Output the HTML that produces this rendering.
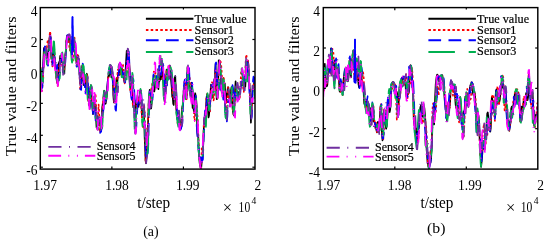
<!DOCTYPE html>
<html><head><meta charset="utf-8"><style>
html,body{margin:0;padding:0;background:#fff;}
body{width:550px;height:242px;overflow:hidden;}
svg{display:block;}
text{font-family:"Liberation Serif","Times New Roman",serif;fill:#000;stroke:#000;stroke-width:0px;}
</style></head><body>
<svg width="550" height="242" viewBox="0 0 550 242">
<rect width="550" height="242" fill="#fff"/>
<clipPath id="cl"><rect x="40.3" y="7.6" width="214.7" height="161.5"/></clipPath>
<g clip-path="url(#cl)" fill="none" stroke-linejoin="round">
<polyline points="40.3,70.9 40.8,80.1 41.3,79.0 41.8,81.1 42.3,82.4 42.9,73.9 43.4,58.4 43.9,48.0 44.4,51.7 44.9,50.5 45.4,47.9 45.9,54.4 46.4,53.6 46.9,53.7 47.5,57.7 48.0,55.0 48.5,47.7 49.0,40.7 49.5,42.6 50.0,33.0 50.5,37.0 51.0,51.9 51.5,59.2 52.1,59.7 52.6,53.5 53.1,48.6 53.6,46.9 54.1,52.5 54.6,63.1 55.1,65.5 55.6,65.4 56.1,72.6 56.7,79.4 57.2,78.6 57.7,76.9 58.2,74.7 58.7,63.9 59.2,61.9 59.7,61.1 60.2,55.8 60.7,56.0 61.3,58.3 61.8,62.1 62.3,59.6 62.8,62.1 63.3,65.0 63.8,66.6 64.3,73.6 64.8,64.2 65.3,54.7 65.9,51.7 66.4,41.5 66.9,36.2 67.4,38.8 67.9,41.9 68.4,37.0 68.9,37.0 69.4,39.4 69.9,39.5 70.5,48.5 71.0,52.0 71.5,48.6 72.0,47.2 72.5,48.7 73.0,46.8 73.5,48.1 74.0,44.2 74.5,45.9 75.1,53.5 75.6,58.9 76.1,59.9 76.6,63.5 77.1,64.4 77.6,57.1 78.1,55.7 78.6,61.7 79.2,67.2 79.7,74.7 80.2,82.5 80.7,82.8 81.2,83.6 81.7,76.5 82.2,73.6 82.7,76.2 83.2,79.6 83.8,85.1 84.3,83.1 84.8,83.8 85.3,87.3 85.8,83.1 86.3,76.0 86.8,73.7 87.3,75.3 87.8,94.1 88.4,101.3 88.9,99.0 89.4,93.5 89.9,92.2 90.4,88.4 90.9,85.1 91.4,86.1 91.9,98.5 92.4,108.1 93.0,114.1 93.5,108.8 94.0,99.9 94.5,96.7 95.0,97.7 95.5,108.4 96.0,117.9 96.5,127.2 97.0,128.5 97.6,116.1 98.1,118.9 98.6,122.0 99.1,125.2 99.6,120.1 100.1,122.3 100.6,128.5 101.1,129.5 101.6,120.6 102.2,107.7 102.7,103.8 103.2,103.7 103.7,94.8 104.2,90.7 104.7,99.6 105.2,103.9 105.7,103.5 106.2,100.6 106.8,96.3 107.3,86.1 107.8,80.5 108.3,75.8 108.8,76.8 109.3,74.6 109.8,66.0 110.3,65.8 110.8,71.4 111.4,77.4 111.9,74.7 112.4,71.6 112.9,82.9 113.4,96.7 113.9,102.4 114.4,93.5 114.9,97.5 115.4,101.9 116.0,86.7 116.5,78.2 117.0,82.7 117.5,80.8 118.0,72.7 118.5,72.4 119.0,73.7 119.5,74.8 120.0,70.3 120.6,69.0 121.1,65.1 121.6,66.4 122.1,70.8 122.6,75.4 123.1,75.4 123.6,74.0 124.1,80.0 124.6,82.5 125.2,75.9 125.7,67.7 126.2,59.0 126.7,50.9 127.2,52.8 127.7,51.6 128.2,51.8 128.7,60.6 129.2,62.2 129.8,70.3 130.3,84.8 130.8,93.2 131.3,82.2 131.8,88.3 132.3,96.0 132.8,98.9 133.3,107.4 133.8,99.1 134.4,103.4 134.9,124.5 135.4,116.1 135.9,105.4 136.4,100.4 136.9,106.1 137.4,106.1 137.9,103.2 138.4,107.2 139.0,104.2 139.5,98.3 140.0,92.7 140.5,89.9 141.0,95.8 141.5,107.1 142.0,115.3 142.5,117.2 143.0,109.0 143.6,108.6 144.1,118.8 144.6,136.8 145.1,147.8 145.6,160.9 146.1,163.3 146.6,145.2 147.1,135.1 147.6,132.4 148.2,118.7 148.7,100.6 149.2,94.3 149.7,89.9 150.2,96.2 150.7,108.6 151.2,108.5 151.7,103.3 152.3,93.6 152.8,82.7 153.3,79.0 153.8,83.6 154.3,91.5 154.8,88.3 155.3,82.3 155.8,83.3 156.3,83.2 156.9,82.6 157.4,83.2 157.9,86.4 158.4,89.2 158.9,81.5 159.4,81.4 159.9,79.4 160.4,74.3 160.9,79.3 161.5,75.1 162.0,67.1 162.5,71.3 163.0,77.9 163.5,85.1 164.0,94.7 164.5,101.3 165.0,96.5 165.5,85.1 166.1,77.5 166.6,69.5 167.1,71.7 167.6,75.5 168.1,72.7 168.6,72.1 169.1,70.6 169.6,65.5 170.1,67.8 170.7,76.3 171.2,81.9 171.7,87.5 172.2,96.9 172.7,96.9 173.2,103.7 173.7,105.0 174.2,93.0 174.7,77.9 175.3,76.1 175.8,92.6 176.3,108.9 176.8,115.5 177.3,116.5 177.8,118.3 178.3,117.7 178.8,110.8 179.3,120.5 179.9,124.3 180.4,124.4 180.9,128.6 181.4,118.2 181.9,109.2 182.4,106.3 182.9,105.6 183.4,96.5 183.9,93.2 184.5,92.8 185.0,89.6 185.5,84.7 186.0,91.6 186.5,98.0 187.0,79.4 187.5,66.8 188.0,68.4 188.5,80.2 189.1,86.0 189.6,88.8 190.1,88.7 190.6,93.4 191.1,88.3 191.6,82.7 192.1,97.2 192.6,107.9 193.1,104.3 193.7,110.2 194.2,113.1 194.7,96.1 195.2,93.2 195.7,95.7 196.2,99.8 196.7,114.4 197.2,130.4 197.7,136.2 198.3,137.4 198.8,153.6 199.3,158.7 199.8,163.8 200.3,166.7 200.8,168.2 201.3,167.1 201.8,160.9 202.3,159.5 202.9,152.2 203.4,140.2 203.9,124.7 204.4,117.7 204.9,123.0 205.4,125.8 205.9,111.2 206.4,99.3 206.9,94.6 207.5,94.6 208.0,110.8 208.5,117.5 209.0,115.7 209.5,109.6 210.0,100.4 210.5,91.7 211.0,84.7 211.5,90.4 212.1,97.6 212.6,97.0 213.1,92.6 213.6,91.8 214.1,89.4 214.6,88.4 215.1,72.2 215.6,63.9 216.1,86.6 216.7,99.2 217.2,98.6 217.7,94.3 218.2,76.6 218.7,60.3 219.2,60.4 219.7,60.9 220.2,65.7 220.8,80.2 221.3,89.4 221.8,92.7 222.3,91.7 222.8,82.9 223.3,78.0 223.8,82.6 224.3,83.8 224.8,83.3 225.4,96.3 225.9,102.3 226.4,93.6 226.9,96.2 227.4,91.2 227.9,87.3 228.4,87.4 228.9,92.0 229.4,98.9 230.0,106.1 230.5,102.3 231.0,90.2 231.5,87.1 232.0,94.8 232.5,107.8 233.0,112.1 233.5,114.1 234.0,115.4 234.6,104.0 235.1,89.3 235.6,81.3 236.1,88.3 236.6,98.9 237.1,93.1 237.6,91.4 238.1,92.0 238.6,97.7 239.2,99.0 239.7,93.2 240.2,90.2 240.7,86.4 241.2,82.7 241.7,84.7 242.2,85.4 242.7,82.5 243.2,81.3 243.8,80.7 244.3,79.9 244.8,80.1 245.3,86.7 245.8,77.8 246.3,62.1 246.8,62.7 247.3,67.2 247.8,60.6 248.4,67.1 248.9,81.6 249.4,83.4 249.9,90.2 250.4,106.4 250.9,122.8 251.4,112.6 251.9,100.8 252.4,91.2 253.0,86.6 253.5,89.4 254.0,83.7 254.5,78.4 255.0,77.1" stroke="#000000" stroke-width="1.65"/>
<polyline points="40.3,74.2 40.8,67.9 41.3,76.4 41.8,91.3 42.3,88.0 42.9,81.0 43.4,68.5 43.9,59.8 44.4,50.6 44.9,46.3 45.4,46.9 45.9,47.4 46.4,50.2 46.9,46.7 47.5,41.6 48.0,40.3 48.5,45.8 49.0,45.5 49.5,36.1 50.0,31.3 50.5,33.9 51.0,51.8 51.5,59.5 52.1,65.7 52.6,66.4 53.1,56.4 53.6,45.5 54.1,47.2 54.6,53.7 55.1,65.5 55.6,72.3 56.1,76.8 56.7,80.6 57.2,84.5 57.7,86.0 58.2,82.9 58.7,72.0 59.2,66.2 59.7,63.1 60.2,61.8 60.7,65.8 61.3,65.4 61.8,65.6 62.3,64.3 62.8,64.6 63.3,63.0 63.8,64.4 64.3,69.4 64.8,65.0 65.3,56.2 65.9,49.5 66.4,39.8 66.9,36.2 67.4,35.1 67.9,34.9 68.4,34.6 68.9,42.0 69.4,48.1 69.9,50.4 70.5,44.9 71.0,40.5 71.5,44.4 72.0,49.8 72.5,59.2 73.0,60.3 73.5,50.5 74.0,39.9 74.5,37.5 75.1,43.5 75.6,50.5 76.1,59.8 76.6,60.9 77.1,56.7 77.6,54.8 78.1,55.9 78.6,57.6 79.2,65.1 79.7,79.2 80.2,88.9 80.7,89.4 81.2,73.9 81.7,66.1 82.2,73.3 82.7,74.2 83.2,68.9 83.8,69.6 84.3,75.5 84.8,78.0 85.3,82.0 85.8,78.1 86.3,76.1 86.8,73.7 87.3,77.0 87.8,91.9 88.4,99.2 88.9,106.1 89.4,99.9 89.9,91.0 90.4,88.9 90.9,94.2 91.4,96.8 91.9,103.5 92.4,102.8 93.0,106.3 93.5,107.7 94.0,107.9 94.5,105.9 95.0,97.5 95.5,93.3 96.0,101.1 96.5,119.5 97.0,123.7 97.6,120.5 98.1,115.9 98.6,104.5 99.1,111.5 99.6,130.4 100.1,132.8 100.6,126.9 101.1,121.5 101.6,128.5 102.2,126.2 102.7,107.2 103.2,99.5 103.7,95.7 104.2,95.8 104.7,95.8 105.2,94.5 105.7,93.5 106.2,94.9 106.8,93.7 107.3,88.9 107.8,83.5 108.3,77.7 108.8,70.9 109.3,69.4 109.8,70.7 110.3,67.4 110.8,68.1 111.4,73.1 111.9,73.5 112.4,74.3 112.9,76.9 113.4,80.2 113.9,93.4 114.4,104.1 114.9,102.9 115.4,94.6 116.0,92.8 116.5,84.7 117.0,79.2 117.5,73.3 118.0,69.3 118.5,74.4 119.0,72.6 119.5,71.9 120.0,72.4 120.6,75.4 121.1,71.8 121.6,66.4 122.1,67.2 122.6,65.6 123.1,65.0 123.6,75.4 124.1,81.6 124.6,83.4 125.2,77.9 125.7,73.4 126.2,71.4 126.7,73.1 127.2,69.4 127.7,64.7 128.2,72.9 128.7,67.6 129.2,67.3 129.8,80.4 130.3,92.6 130.8,92.8 131.3,90.7 131.8,98.5 132.3,99.2 132.8,104.3 133.3,106.7 133.8,97.4 134.4,102.7 134.9,119.5 135.4,126.9 135.9,121.0 136.4,110.0 136.9,99.5 137.4,101.7 137.9,104.0 138.4,97.4 139.0,99.1 139.5,101.0 140.0,96.0 140.5,93.5 141.0,100.9 141.5,112.4 142.0,119.6 142.5,121.4 143.0,128.5 143.6,118.7 144.1,104.4 144.6,111.9 145.1,135.2 145.6,160.9 146.1,163.3 146.6,145.8 147.1,128.6 147.6,127.9 148.2,114.5 148.7,102.4 149.2,98.2 149.7,94.8 150.2,101.3 150.7,100.3 151.2,89.1 151.7,87.9 152.3,83.5 152.8,84.2 153.3,81.4 153.8,71.5 154.3,76.6 154.8,73.1 155.3,70.4 155.8,80.4 156.3,86.4 156.9,82.4 157.4,80.5 157.9,77.3 158.4,82.0 158.9,76.0 159.4,67.6 159.9,62.4 160.4,55.8 160.9,60.4 161.5,76.3 162.0,76.3 162.5,79.9 163.0,77.4 163.5,77.6 164.0,87.8 164.5,96.4 165.0,93.0 165.5,84.2 166.1,76.3 166.6,69.8 167.1,71.7 167.6,74.6 168.1,69.6 168.6,65.2 169.1,67.3 169.6,65.6 170.1,65.6 170.7,69.8 171.2,78.4 171.7,81.1 172.2,86.1 172.7,93.3 173.2,97.5 173.7,94.3 174.2,83.3 174.7,81.6 175.3,82.5 175.8,87.6 176.3,101.4 176.8,114.1 177.3,120.7 177.8,124.6 178.3,123.5 178.8,125.6 179.3,122.6 179.9,122.7 180.4,126.8 180.9,125.4 181.4,124.6 181.9,117.7 182.4,111.1 182.9,102.6 183.4,95.5 183.9,86.5 184.5,81.4 185.0,84.1 185.5,81.5 186.0,85.3 186.5,99.3 187.0,98.2 187.5,87.0 188.0,78.9 188.5,81.8 189.1,75.4 189.6,75.8 190.1,84.4 190.6,94.7 191.1,95.8 191.6,94.9 192.1,93.1 192.6,91.3 193.1,93.1 193.7,104.6 194.2,116.9 194.7,120.8 195.2,111.7 195.7,101.0 196.2,102.7 196.7,110.3 197.2,114.1 197.7,117.1 198.3,132.9 198.8,145.3 199.3,155.0 199.8,163.8 200.3,166.7 200.8,168.2 201.3,162.6 201.8,147.5 202.3,150.4 202.9,155.4 203.4,134.8 203.9,120.4 204.4,118.6 204.9,116.6 205.4,119.7 205.9,108.9 206.4,97.2 206.9,94.6 207.5,93.2 208.0,97.9 208.5,105.6 209.0,110.5 209.5,110.1 210.0,112.7 210.5,100.7 211.0,88.9 211.5,84.3 212.1,82.2 212.6,83.6 213.1,91.2 213.6,100.4 214.1,98.0 214.6,87.6 215.1,70.7 215.6,69.8 216.1,87.0 216.7,92.6 217.2,98.0 217.7,97.9 218.2,90.5 218.7,71.7 219.2,64.4 219.7,61.6 220.2,61.4 220.8,61.9 221.3,66.2 221.8,73.1 222.3,86.4 222.8,91.1 223.3,85.6 223.8,78.0 224.3,88.9 224.8,95.8 225.4,98.0 225.9,102.3 226.4,109.3 226.9,114.0 227.4,103.7 227.9,87.3 228.4,89.3 228.9,98.2 229.4,100.7 230.0,100.1 230.5,99.1 231.0,97.9 231.5,91.2 232.0,90.7 232.5,102.3 233.0,112.7 233.5,114.1 234.0,111.0 234.6,100.1 235.1,97.1 235.6,99.8 236.1,92.9 236.6,86.8 237.1,86.7 237.6,93.9 238.1,97.3 238.6,94.2 239.2,96.0 239.7,98.5 240.2,90.8 240.7,79.4 241.2,70.1 241.7,68.7 242.2,75.3 242.7,84.6 243.2,88.3 243.8,91.9 244.3,81.5 244.8,74.8 245.3,72.1 245.8,59.4 246.3,54.4 246.8,57.7 247.3,60.2 247.8,60.6 248.4,63.9 248.9,74.5 249.4,84.4 249.9,96.0 250.4,102.0 250.9,113.4 251.4,113.8 251.9,105.3 252.4,94.8 253.0,88.1 253.5,84.6 254.0,88.7 254.5,87.3 255.0,90.6" stroke="#ff0000" stroke-width="1.65" stroke-dasharray="2.5 2.3"/>
<polyline points="40.3,76.8 40.8,81.0 41.3,74.6 41.8,80.4 42.3,88.0 42.9,73.5 43.4,65.7 43.9,56.4 44.4,48.8 44.9,46.3 45.4,46.9 45.9,50.5 46.4,50.7 46.9,56.4 47.5,63.8 48.0,65.7 48.5,60.0 49.0,56.8 49.5,49.8 50.0,34.7 50.5,33.9 51.0,46.5 51.5,50.0 52.1,57.7 52.6,65.4 53.1,60.5 53.6,48.9 54.1,45.0 54.6,56.4 55.1,72.6 55.6,74.4 56.1,71.2 56.7,70.4 57.2,64.6 57.7,71.8 58.2,78.3 58.7,80.3 59.2,77.7 59.7,69.0 60.2,63.5 60.7,60.9 61.3,59.0 61.8,57.0 62.3,64.9 62.8,72.2 63.3,69.1 63.8,60.9 64.3,59.4 64.8,63.3 65.3,62.8 65.9,53.8 66.4,44.1 66.9,36.5 67.4,35.1 67.9,34.9 68.4,35.8 68.9,35.8 69.4,36.1 69.9,38.9 70.5,36.8 71.0,39.7 71.5,47.3 72.0,54.9 72.5,17.0 73.0,49.9 73.5,48.1 74.0,50.9 74.5,49.8 75.1,42.4 75.6,51.3 76.1,61.2 76.6,66.7 77.1,66.5 77.6,65.9 78.1,61.3 78.6,58.6 79.2,64.4 79.7,76.3 80.2,88.9 80.7,89.4 81.2,89.9 81.7,76.6 82.2,69.8 82.7,63.5 83.2,65.1 83.8,76.9 84.3,82.8 84.8,85.9 85.3,94.5 85.8,90.7 86.3,84.7 86.8,87.8 87.3,85.0 87.8,81.4 88.4,91.0 88.9,101.3 89.4,105.9 89.9,97.6 90.4,86.9 90.9,85.8 91.4,90.3 91.9,93.3 92.4,105.6 93.0,113.6 93.5,110.2 94.0,106.6 94.5,109.6 95.0,109.9 95.5,118.8 96.0,125.1 96.5,123.5 97.0,119.9 97.6,117.5 98.1,119.3 98.6,129.2 99.1,132.0 99.6,132.3 100.1,132.8 100.6,130.7 101.1,131.8 101.6,127.7 102.2,120.7 102.7,113.2 103.2,111.2 103.7,108.3 104.2,93.8 104.7,94.8 105.2,101.5 105.7,100.5 106.2,99.3 106.8,100.1 107.3,90.5 107.8,80.8 108.3,76.0 108.8,70.4 109.3,67.8 109.8,68.1 110.3,73.4 110.8,72.2 111.4,68.8 111.9,68.6 112.4,72.6 112.9,84.7 113.4,91.5 113.9,90.8 114.4,88.2 114.9,102.1 115.4,109.4 116.0,110.7 116.5,101.7 117.0,87.6 117.5,78.7 118.0,76.4 118.5,74.7 119.0,70.7 119.5,69.4 120.0,69.7 120.6,63.8 121.1,65.1 121.6,67.9 122.1,74.7 122.6,77.4 123.1,76.4 123.6,73.3 124.1,72.1 124.6,81.7 125.2,82.3 125.7,75.1 126.2,68.5 126.7,64.1 127.2,62.1 127.7,56.5 128.2,48.0 128.7,49.8 129.2,58.2 129.8,75.9 130.3,86.9 130.8,93.4 131.3,97.7 131.8,99.7 132.3,95.3 132.8,91.7 133.3,78.8 133.8,82.6 134.4,92.9 134.9,101.4 135.4,119.9 135.9,132.0 136.4,125.9 136.9,114.4 137.4,108.5 137.9,100.7 138.4,97.8 139.0,99.8 139.5,103.4 140.0,99.3 140.5,90.2 141.0,89.6 141.5,95.8 142.0,107.0 142.5,110.5 143.0,112.0 143.6,117.0 144.1,115.4 144.6,112.6 145.1,138.1 145.6,149.8 146.1,156.3 146.6,160.0 147.1,154.6 147.6,153.3 148.2,148.6 148.7,125.6 149.2,101.4 149.7,91.4 150.2,96.0 150.7,94.9 151.2,89.5 151.7,91.3 152.3,100.3 152.8,97.1 153.3,76.0 153.8,72.9 154.3,72.8 154.8,78.3 155.3,83.3 155.8,80.5 156.3,74.5 156.9,71.6 157.4,77.2 157.9,86.7 158.4,80.7 158.9,70.4 159.4,62.0 159.9,55.1 160.4,62.3 160.9,75.0 161.5,71.5 162.0,62.0 162.5,70.3 163.0,63.9 163.5,66.5 164.0,71.0 164.5,84.3 165.0,93.3 165.5,85.7 166.1,78.9 166.6,82.9 167.1,85.4 167.6,73.5 168.1,71.6 168.6,76.8 169.1,78.9 169.6,66.5 170.1,67.2 170.7,67.2 171.2,68.8 171.7,79.4 172.2,89.8 172.7,81.2 173.2,80.4 173.7,94.7 174.2,97.1 174.7,91.7 175.3,87.3 175.8,84.4 176.3,93.0 176.8,105.4 177.3,118.4 177.8,124.1 178.3,118.6 178.8,114.4 179.3,118.0 179.9,127.7 180.4,129.9 180.9,128.6 181.4,127.2 181.9,125.9 182.4,123.0 182.9,111.2 183.4,95.7 183.9,85.6 184.5,81.4 185.0,78.4 185.5,83.6 186.0,82.6 186.5,83.9 187.0,79.0 187.5,72.6 188.0,68.7 188.5,66.4 189.1,67.4 189.6,80.0 190.1,91.8 190.6,96.0 191.1,90.6 191.6,84.3 192.1,82.8 192.6,92.8 193.1,102.8 193.7,101.0 194.2,102.5 194.7,112.4 195.2,107.8 195.7,95.7 196.2,103.2 196.7,126.0 197.2,133.2 197.7,138.1 198.3,147.3 198.8,152.4 199.3,148.4 199.8,152.5 200.3,161.1 200.8,162.8 201.3,160.4 201.8,154.6 202.3,160.8 202.9,159.5 203.4,146.6 203.9,132.5 204.4,121.4 204.9,111.1 205.4,110.0 205.9,112.7 206.4,107.7 206.9,99.3 207.5,94.8 208.0,93.0 208.5,93.4 209.0,101.0 209.5,112.8 210.0,106.8 210.5,97.3 211.0,90.4 211.5,85.2 212.1,86.0 212.6,87.3 213.1,83.9 213.6,83.3 214.1,81.9 214.6,78.5 215.1,78.8 215.6,63.2 216.1,62.4 216.7,68.1 217.2,83.0 217.7,89.4 218.2,83.1 218.7,82.6 219.2,82.4 219.7,85.1 220.2,90.1 220.8,94.0 221.3,89.2 221.8,82.7 222.3,88.7 222.8,95.2 223.3,99.7 223.8,95.4 224.3,92.5 224.8,101.3 225.4,114.2 225.9,118.4 226.4,118.4 226.9,121.5 227.4,116.2 227.9,103.3 228.4,99.9 228.9,101.8 229.4,99.4 230.0,98.5 230.5,98.9 231.0,99.3 231.5,96.8 232.0,90.8 232.5,85.1 233.0,87.7 233.5,92.4 234.0,99.1 234.6,100.1 235.1,92.5 235.6,94.1 236.1,102.2 236.6,98.0 237.1,92.1 237.6,93.7 238.1,95.7 238.6,99.2 239.2,96.4 239.7,96.6 240.2,94.1 240.7,85.9 241.2,81.8 241.7,74.1 242.2,71.4 242.7,76.2 243.2,81.2 243.8,86.0 244.3,83.4 244.8,76.3 245.3,76.5 245.8,74.0 246.3,71.9 246.8,67.7 247.3,62.3 247.8,71.9 248.4,77.6 248.9,78.6 249.4,92.0 249.9,101.9 250.4,98.6 250.9,101.3 251.4,118.3 251.9,116.6 252.4,99.3 253.0,80.2 253.5,76.6 254.0,78.0 254.5,82.8 255.0,84.2" stroke="#0000ff" stroke-width="1.65" stroke-dasharray="12.7 7.4"/>
<polyline points="40.3,74.8 40.8,68.9 41.3,70.1 41.8,82.8 42.3,82.1 42.9,82.3 43.4,77.0 43.9,60.1 44.4,52.1 44.9,52.7 45.4,51.9 45.9,52.5 46.4,60.0 46.9,64.7 47.5,64.0 48.0,59.2 48.5,58.1 49.0,51.4 49.5,42.3 50.0,43.2 50.5,44.6 51.0,49.7 51.5,56.2 52.1,63.6 52.6,62.0 53.1,48.2 53.6,41.4 54.1,41.6 54.6,48.8 55.1,59.3 55.6,67.9 56.1,75.3 56.7,80.6 57.2,79.2 57.7,81.2 58.2,81.7 58.7,80.3 59.2,78.7 59.7,78.7 60.2,73.1 60.7,59.3 61.3,54.0 61.8,53.2 62.3,52.4 62.8,55.7 63.3,66.6 63.8,75.4 64.3,73.6 64.8,67.7 65.3,57.4 65.9,48.9 66.4,44.2 66.9,41.3 67.4,40.7 67.9,39.2 68.4,34.6 68.9,34.3 69.4,34.2 69.9,36.3 70.5,51.1 71.0,52.7 71.5,59.3 72.0,62.7 72.5,61.2 73.0,51.4 73.5,43.4 74.0,38.1 74.5,42.1 75.1,52.7 75.6,61.6 76.1,66.8 76.6,68.3 77.1,67.1 77.6,58.9 78.1,59.0 78.6,67.5 79.2,71.1 79.7,65.7 80.2,74.4 80.7,78.1 81.2,75.4 81.7,77.5 82.2,72.7 82.7,64.9 83.2,65.1 83.8,66.7 84.3,75.9 84.8,84.5 85.3,82.5 85.8,75.1 86.3,74.4 86.8,81.8 87.3,93.3 87.8,101.8 88.4,101.9 88.9,109.9 89.4,111.1 89.9,110.3 90.4,96.4 90.9,85.1 91.4,86.1 91.9,87.8 92.4,103.8 93.0,109.0 93.5,98.7 94.0,96.6 94.5,100.6 95.0,109.9 95.5,118.0 96.0,118.7 96.5,114.9 97.0,122.5 97.6,129.8 98.1,127.5 98.6,131.4 99.1,132.0 99.6,131.0 100.1,120.6 100.6,123.8 101.1,128.7 101.6,127.8 102.2,128.5 102.7,119.3 103.2,102.4 103.7,93.7 104.2,91.3 104.7,91.1 105.2,96.0 105.7,98.6 106.2,99.3 106.8,94.6 107.3,89.9 107.8,87.2 108.3,75.5 108.8,70.4 109.3,67.8 109.8,65.2 110.3,64.8 110.8,65.6 111.4,66.4 111.9,67.8 112.4,75.7 112.9,83.7 113.4,87.3 113.9,89.6 114.4,95.9 114.9,100.0 115.4,96.5 116.0,89.5 116.5,90.4 117.0,88.8 117.5,87.7 118.0,77.4 118.5,66.0 119.0,64.7 119.5,67.0 120.0,64.1 120.6,67.1 121.1,71.2 121.6,77.2 122.1,76.3 122.6,77.3 123.1,77.0 123.6,72.4 124.1,75.1 124.6,82.3 125.2,77.9 125.7,71.7 126.2,77.7 126.7,79.5 127.2,68.2 127.7,61.8 128.2,59.1 128.7,66.6 129.2,73.4 129.8,85.5 130.3,92.2 130.8,90.5 131.3,88.6 131.8,81.3 132.3,72.8 132.8,75.0 133.3,85.4 133.8,99.8 134.4,122.6 134.9,138.7 135.4,133.7 135.9,119.2 136.4,110.9 136.9,106.7 137.4,104.2 137.9,97.8 138.4,97.8 139.0,100.1 139.5,98.8 140.0,92.2 140.5,88.8 141.0,92.3 141.5,101.3 142.0,121.1 142.5,126.3 143.0,125.7 143.6,106.8 144.1,111.5 144.6,126.1 145.1,134.4 145.6,139.6 146.1,154.8 146.6,151.3 147.1,154.6 147.6,153.3 148.2,146.1 148.7,114.4 149.2,94.3 149.7,101.7 150.2,103.9 150.7,101.6 151.2,105.9 151.7,100.9 152.3,87.5 152.8,81.3 153.3,76.6 153.8,71.8 154.3,69.8 154.8,70.2 155.3,77.5 155.8,86.1 156.3,87.2 156.9,87.3 157.4,85.3 157.9,76.8 158.4,66.0 158.9,65.5 159.4,60.3 159.9,55.1 160.4,55.8 160.9,64.9 161.5,64.4 162.0,58.8 162.5,64.7 163.0,75.9 163.5,95.4 164.0,98.9 164.5,96.6 165.0,98.8 165.5,98.1 166.1,97.0 166.6,88.6 167.1,76.9 167.6,69.2 168.1,77.9 168.6,85.7 169.1,78.4 169.6,71.1 170.1,68.3 170.7,67.2 171.2,69.5 171.7,70.3 172.2,75.9 172.7,81.1 173.2,87.3 173.7,95.4 174.2,90.2 174.7,84.8 175.3,82.5 175.8,101.1 176.3,112.9 176.8,116.8 177.3,120.7 177.8,124.6 178.3,126.8 178.8,120.8 179.3,119.6 179.9,124.8 180.4,123.9 180.9,124.7 181.4,127.1 181.9,119.9 182.4,108.0 182.9,102.1 183.4,95.1 183.9,87.0 184.5,84.0 185.0,94.8 185.5,99.1 186.0,92.2 186.5,97.9 187.0,92.6 187.5,77.3 188.0,72.8 188.5,82.5 189.1,89.5 189.6,91.2 190.1,86.1 190.6,87.9 191.1,91.4 191.6,90.0 192.1,87.6 192.6,89.9 193.1,95.5 193.7,103.2 194.2,106.9 194.7,101.5 195.2,107.7 195.7,99.6 196.2,98.5 196.7,110.5 197.2,118.0 197.7,131.8 198.3,142.3 198.8,153.6 199.3,158.7 199.8,163.8 200.3,163.7 200.8,163.2 201.3,161.1 201.8,156.1 202.3,159.4 202.9,151.6 203.4,135.3 203.9,130.1 204.4,124.7 204.9,116.8 205.4,124.8 205.9,126.9 206.4,115.8 206.9,96.4 207.5,93.2 208.0,97.9 208.5,104.4 209.0,110.3 209.5,109.9 210.0,104.2 210.5,94.6 211.0,93.6 211.5,98.6 212.1,92.6 212.6,92.2 213.1,93.9 213.6,93.7 214.1,86.7 214.6,83.0 215.1,77.8 215.6,82.3 216.1,93.8 216.7,96.6 217.2,95.9 217.7,86.3 218.2,86.3 218.7,87.5 219.2,75.0 219.7,64.9 220.2,66.2 220.8,71.3 221.3,78.6 221.8,91.4 222.3,98.4 222.8,86.7 223.3,79.3 223.8,80.1 224.3,94.4 224.8,108.2 225.4,116.9 225.9,118.4 226.4,114.1 226.9,109.1 227.4,109.4 227.9,101.5 228.4,96.8 228.9,95.3 229.4,94.4 230.0,96.6 230.5,104.0 231.0,101.2 231.5,93.7 232.0,87.1 232.5,91.3 233.0,103.8 233.5,114.1 234.0,113.1 234.6,98.4 235.1,88.9 235.6,87.3 236.1,85.2 236.6,90.0 237.1,97.0 237.6,99.7 238.1,99.0 238.6,97.9 239.2,97.0 239.7,90.9 240.2,87.9 240.7,86.4 241.2,77.6 241.7,68.7 242.2,68.2 242.7,73.8 243.2,86.2 243.8,83.2 244.3,83.9 244.8,89.2 245.3,84.1 245.8,71.9 246.3,62.2 246.8,72.0 247.3,82.5 247.8,74.5 248.4,72.6 248.9,76.8 249.4,86.3 249.9,101.0 250.4,114.0 250.9,110.6 251.4,98.9 251.9,97.5 252.4,95.8 253.0,92.3 253.5,88.7 254.0,86.7 254.5,93.1 255.0,98.7" stroke="#00b050" stroke-width="1.65" stroke-dasharray="26.5 13.8"/>
<polyline points="40.3,77.7 40.8,81.2 41.3,87.0 41.8,91.3 42.3,88.0 42.9,75.1 43.4,69.7 43.9,64.9 44.4,56.3 44.9,48.8 45.4,46.9 45.9,49.1 46.4,53.8 46.9,62.4 47.5,61.7 48.0,59.7 48.5,56.3 49.0,50.3 49.5,38.5 50.0,31.6 50.5,45.5 51.0,52.1 51.5,57.7 52.1,64.4 52.6,66.3 53.1,62.0 53.6,56.9 54.1,56.7 54.6,61.1 55.1,65.7 55.6,62.8 56.1,60.2 56.7,67.8 57.2,81.0 57.7,86.0 58.2,83.2 58.7,80.3 59.2,78.7 59.7,75.5 60.2,59.8 60.7,53.8 61.3,54.0 61.8,53.2 62.3,59.9 62.8,69.7 63.3,78.3 63.8,75.9 64.3,73.6 64.8,69.1 65.3,58.5 65.9,46.8 66.4,39.8 66.9,36.2 67.4,35.6 67.9,36.0 68.4,34.6 68.9,34.3 69.4,34.2 69.9,34.9 70.5,41.6 71.0,44.1 71.5,43.6 72.0,46.2 72.5,51.4 73.0,47.9 73.5,42.2 74.0,39.0 74.5,40.2 75.1,43.2 75.6,48.3 76.1,58.6 76.6,64.5 77.1,65.5 77.6,62.5 78.1,58.0 78.6,56.4 79.2,64.5 79.7,77.4 80.2,84.6 80.7,89.4 81.2,86.4 81.7,74.3 82.2,71.8 82.7,75.1 83.2,84.2 83.8,84.7 84.3,83.0 84.8,86.6 85.3,88.5 85.8,89.8 86.3,89.4 86.8,86.4 87.3,80.1 87.8,76.8 88.4,81.8 88.9,94.9 89.4,97.7 89.9,100.6 90.4,109.0 90.9,103.3 91.4,90.6 91.9,87.2 92.4,96.5 93.0,109.9 93.5,110.4 94.0,101.0 94.5,98.0 95.0,102.9 95.5,106.8 96.0,103.5 96.5,114.2 97.0,128.4 97.6,129.8 98.1,129.9 98.6,119.9 99.1,116.9 99.6,117.7 100.1,126.9 100.6,130.9 101.1,126.9 101.6,115.7 102.2,112.6 102.7,117.4 103.2,113.2 103.7,108.6 104.2,98.4 104.7,92.4 105.2,99.6 105.7,102.1 106.2,95.1 106.8,90.1 107.3,90.3 107.8,84.3 108.3,73.5 108.8,70.4 109.3,67.8 109.8,65.2 110.3,64.8 110.8,65.6 111.4,66.4 111.9,67.1 112.4,70.5 112.9,88.6 113.4,95.1 113.9,94.3 114.4,101.1 114.9,106.6 115.4,106.1 116.0,100.3 116.5,90.6 117.0,90.3 117.5,92.3 118.0,92.2 118.5,76.1 119.0,64.7 119.5,63.5 120.0,62.8 120.6,63.8 121.1,65.1 121.6,66.4 122.1,67.2 122.6,67.1 123.1,70.6 123.6,78.1 124.1,83.0 124.6,79.9 125.2,70.7 125.7,64.3 126.2,61.6 126.7,59.9 127.2,54.8 127.7,48.6 128.2,49.1 128.7,63.8 129.2,76.6 129.8,83.7 130.3,88.0 130.8,88.8 131.3,80.2 131.8,75.9 132.3,81.4 132.8,87.8 133.3,89.5 133.8,96.2 134.4,117.0 134.9,133.8 135.4,129.6 135.9,116.5 136.4,108.3 136.9,99.4 137.4,95.3 137.9,99.7 138.4,108.2 139.0,108.9 139.5,109.1 140.0,102.6 140.5,90.2 141.0,86.4 141.5,98.0 142.0,109.8 142.5,102.7 143.0,102.0 143.6,97.8 144.1,106.4 144.6,122.6 145.1,121.3 145.6,130.4 146.1,163.3 146.6,160.0 147.1,156.6 147.6,143.6 148.2,127.7 148.7,124.2 149.2,118.0 149.7,106.6 150.2,103.5 150.7,107.7 151.2,104.6 151.7,98.8 152.3,100.3 152.8,95.5 153.3,87.6 153.8,84.8 154.3,82.1 154.8,79.9 155.3,79.3 155.8,83.2 156.3,80.5 156.9,79.9 157.4,72.1 157.9,69.0 158.4,75.6 158.9,74.1 159.4,70.1 159.9,67.1 160.4,61.6 160.9,56.8 161.5,60.5 162.0,62.9 162.5,63.8 163.0,69.4 163.5,76.4 164.0,84.4 164.5,94.9 165.0,104.9 165.5,105.2 166.1,90.2 166.6,79.3 167.1,71.5 167.6,75.9 168.1,71.9 168.6,72.6 169.1,78.2 169.6,73.5 170.1,65.6 170.7,70.0 171.2,74.1 171.7,78.0 172.2,82.4 172.7,89.2 173.2,93.8 173.7,99.8 174.2,99.4 174.7,84.4 175.3,76.2 175.8,79.6 176.3,90.9 176.8,102.0 177.3,109.8 177.8,112.6 178.3,111.2 178.8,110.5 179.3,120.9 179.9,127.0 180.4,122.5 180.9,119.5 181.4,123.5 181.9,125.9 182.4,120.7 182.9,109.8 183.4,98.3 183.9,87.4 184.5,84.1 185.0,88.0 185.5,83.7 186.0,88.2 186.5,93.7 187.0,85.2 187.5,69.1 188.0,65.3 188.5,72.3 189.1,78.4 189.6,87.5 190.1,94.6 190.6,97.9 191.1,93.2 191.6,83.1 192.1,83.8 192.6,91.2 193.1,97.6 193.7,110.1 194.2,111.9 194.7,107.6 195.2,102.2 195.7,100.1 196.2,100.8 196.7,107.8 197.2,118.5 197.7,132.8 198.3,135.5 198.8,147.0 199.3,157.0 199.8,160.3 200.3,161.4 200.8,168.2 201.3,167.1 201.8,164.6 202.3,161.4 202.9,154.4 203.4,140.5 203.9,122.6 204.4,119.2 204.9,116.8 205.4,109.8 205.9,103.4 206.4,104.6 206.9,103.5 207.5,104.7 208.0,103.5 208.5,101.7 209.0,103.3 209.5,104.3 210.0,97.1 210.5,88.7 211.0,87.5 211.5,88.2 212.1,84.1 212.6,82.1 213.1,85.9 213.6,83.9 214.1,79.2 214.6,79.4 215.1,74.8 215.6,76.9 216.1,79.0 216.7,82.9 217.2,95.1 217.7,97.8 218.2,83.2 218.7,69.1 219.2,63.0 219.7,60.9 220.2,61.4 220.8,62.4 221.3,81.7 221.8,94.8 222.3,94.0 222.8,93.9 223.3,95.2 223.8,93.0 224.3,91.0 224.8,100.7 225.4,112.8 225.9,117.5 226.4,120.0 226.9,121.5 227.4,106.6 227.9,93.9 228.4,89.3 228.9,91.9 229.4,93.5 230.0,95.6 230.5,99.3 231.0,98.5 231.5,97.5 232.0,91.7 232.5,88.0 233.0,96.2 233.5,96.9 234.0,103.6 234.6,105.3 235.1,95.7 235.6,89.6 236.1,87.3 236.6,85.3 237.1,84.1 237.6,82.8 238.1,85.8 238.6,96.1 239.2,100.1 239.7,98.9 240.2,94.0 240.7,84.2 241.2,77.3 241.7,78.4 242.2,77.9 242.7,74.6 243.2,75.7 243.8,83.2 244.3,90.4 244.8,90.2 245.3,80.5 245.8,61.1 246.3,58.2 246.8,67.7 247.3,69.2 247.8,67.1 248.4,63.3 248.9,70.8 249.4,82.1 249.9,89.2 250.4,94.9 250.9,107.9 251.4,120.2 251.9,102.7 252.4,85.9 253.0,85.7 253.5,86.7 254.0,89.0 254.5,87.5 255.0,86.1" stroke="#7030a0" stroke-width="1.65" stroke-dasharray="13.2 7.5 1 7.5"/>
<polyline points="40.3,79.5 40.8,86.3 41.3,89.8 41.8,91.3 42.3,87.9 42.9,75.7 43.4,70.5 43.9,60.9 44.4,54.3 44.9,59.3 45.4,57.1 45.9,53.6 46.4,55.7 46.9,57.9 47.5,63.9 48.0,65.7 48.5,60.0 49.0,48.6 49.5,43.4 50.0,38.9 50.5,33.9 51.0,39.7 51.5,54.3 52.1,65.7 52.6,66.4 53.1,66.9 53.6,60.3 54.1,58.2 54.6,66.2 55.1,69.5 55.6,74.4 56.1,73.6 56.7,66.0 57.2,76.5 57.7,86.0 58.2,83.2 58.7,80.3 59.2,78.7 59.7,74.0 60.2,72.5 60.7,71.5 61.3,58.9 61.8,53.3 62.3,57.4 62.8,60.4 63.3,63.7 63.8,66.9 64.3,62.6 64.8,61.4 65.3,60.1 65.9,52.5 66.4,48.8 66.9,41.1 67.4,35.3 67.9,35.0 68.4,37.4 68.9,38.9 69.4,35.3 69.9,34.1 70.5,33.9 71.0,33.7 71.5,35.4 72.0,46.3 72.5,59.6 73.0,61.7 73.5,61.1 74.0,52.9 74.5,50.3 75.1,43.2 75.6,42.1 76.1,48.5 76.6,64.2 77.1,62.3 77.6,54.5 78.1,59.6 78.6,64.5 79.2,66.3 79.7,71.6 80.2,70.7 80.7,79.9 81.2,85.2 81.7,85.6 82.2,80.8 82.7,75.7 83.2,74.0 83.8,77.1 84.3,86.1 84.8,89.1 85.3,94.7 85.8,97.0 86.3,93.2 86.8,93.6 87.3,93.7 87.8,94.0 88.4,98.2 88.9,100.1 89.4,109.2 89.9,104.5 90.4,93.8 90.9,88.9 91.4,89.7 91.9,87.2 92.4,90.3 93.0,103.3 93.5,109.9 94.0,102.2 94.5,92.8 95.0,94.5 95.5,106.7 96.0,106.7 96.5,117.1 97.0,128.5 97.6,129.8 98.1,118.6 98.6,111.5 99.1,119.0 99.6,118.6 100.1,121.2 100.6,116.4 101.1,117.1 101.6,131.3 102.2,129.9 102.7,123.5 103.2,113.1 103.7,99.6 104.2,94.0 104.7,94.2 105.2,99.3 105.7,98.7 106.2,98.5 106.8,101.7 107.3,99.2 107.8,89.5 108.3,78.6 108.8,70.9 109.3,67.8 109.8,65.2 110.3,64.8 110.8,65.9 111.4,68.4 111.9,71.8 112.4,75.2 112.9,76.2 113.4,77.1 113.9,76.9 114.4,80.4 114.9,100.7 115.4,105.6 116.0,100.1 116.5,102.1 117.0,90.0 117.5,83.3 118.0,78.4 118.5,74.7 119.0,69.4 119.5,63.5 120.0,62.4 120.6,64.1 121.1,66.0 121.6,66.4 122.1,67.2 122.6,65.6 123.1,67.6 123.6,67.3 124.1,71.9 124.6,75.6 125.2,77.3 125.7,78.4 126.2,73.4 126.7,65.7 127.2,67.3 127.7,66.5 128.2,50.7 128.7,49.8 129.2,61.3 129.8,77.8 130.3,77.1 130.8,89.9 131.3,97.3 131.8,88.0 132.3,83.5 132.8,76.1 133.3,78.8 133.8,94.3 134.4,115.0 134.9,123.5 135.4,133.9 135.9,133.2 136.4,123.8 136.9,104.6 137.4,97.2 137.9,88.0 138.4,86.3 139.0,91.7 139.5,104.1 140.0,101.3 140.5,94.3 141.0,97.2 141.5,99.6 142.0,104.0 142.5,115.4 143.0,121.1 143.6,121.1 144.1,125.2 144.6,122.1 145.1,130.4 145.6,132.8 146.1,138.6 146.6,149.0 147.1,139.3 147.6,133.4 148.2,125.0 148.7,112.7 149.2,103.9 149.7,90.0 150.2,96.5 150.7,96.4 151.2,101.9 151.7,101.2 152.3,91.1 152.8,86.6 153.3,89.0 153.8,81.2 154.3,65.8 154.8,62.4 155.3,63.1 155.8,82.0 156.3,92.0 156.9,82.9 157.4,81.6 157.9,86.9 158.4,88.1 158.9,81.2 159.4,63.0 159.9,55.1 160.4,64.1 160.9,66.3 161.5,64.6 162.0,58.8 162.5,61.3 163.0,63.9 163.5,70.0 164.0,94.1 164.5,104.3 165.0,101.6 165.5,97.0 166.1,84.3 166.6,76.7 167.1,73.5 167.6,70.2 168.1,69.3 168.6,65.7 169.1,74.4 169.6,76.2 170.1,66.0 170.7,67.2 171.2,68.8 171.7,70.3 172.2,71.6 172.7,75.9 173.2,79.9 173.7,89.8 174.2,99.1 174.7,97.8 175.3,93.4 175.8,89.7 176.3,96.4 176.8,100.7 177.3,115.0 177.8,120.0 178.3,115.2 178.8,119.1 179.3,129.3 179.9,130.5 180.4,125.0 180.9,125.0 181.4,123.0 181.9,117.1 182.4,110.0 182.9,107.8 183.4,101.9 183.9,95.6 184.5,88.9 185.0,78.0 185.5,76.0 186.0,87.0 186.5,97.7 187.0,98.2 187.5,87.5 188.0,67.1 188.5,68.3 189.1,79.0 189.6,83.0 190.1,84.8 190.6,96.4 191.1,101.1 191.6,103.6 192.1,91.1 192.6,83.1 193.1,94.0 193.7,107.7 194.2,116.9 194.7,120.8 195.2,114.2 195.7,99.8 196.2,98.5 196.7,109.4 197.2,111.6 197.7,116.1 198.3,133.5 198.8,153.6 199.3,158.0 199.8,160.8 200.3,166.7 200.8,168.2 201.3,163.3 201.8,164.6 202.3,156.7 202.9,139.5 203.4,132.4 203.9,129.6 204.4,118.5 204.9,110.4 205.4,110.5 205.9,115.0 206.4,107.5 206.9,105.5 207.5,99.1 208.0,96.4 208.5,100.2 209.0,103.6 209.5,97.9 210.0,97.1 210.5,99.1 211.0,94.1 211.5,93.4 212.1,85.5 212.6,83.0 213.1,90.8 213.6,94.8 214.1,96.1 214.6,83.7 215.1,76.0 215.6,75.0 216.1,70.4 216.7,70.7 217.2,82.1 217.7,97.9 218.2,97.1 218.7,83.8 219.2,69.7 219.7,60.9 220.2,61.4 220.8,72.7 221.3,88.4 221.8,91.4 222.3,97.6 222.8,97.9 223.3,93.7 223.8,83.9 224.3,82.9 224.8,91.8 225.4,103.7 225.9,112.0 226.4,112.8 226.9,112.2 227.4,105.5 227.9,99.7 228.4,100.4 228.9,99.2 229.4,99.2 230.0,106.8 230.5,106.3 231.0,105.5 231.5,99.6 232.0,97.1 232.5,96.3 233.0,102.9 233.5,104.9 234.0,112.2 234.6,116.7 235.1,117.7 235.6,102.9 236.1,91.5 236.6,95.0 237.1,100.9 237.6,101.6 238.1,100.4 238.6,99.1 239.2,99.3 239.7,94.3 240.2,86.8 240.7,81.2 241.2,80.5 241.7,81.0 242.2,68.3 242.7,71.1 243.2,72.6 243.8,75.7 244.3,79.4 244.8,72.0 245.3,76.3 245.8,82.0 246.3,68.6 246.8,61.2 247.3,59.4 247.8,61.7 248.4,63.0 248.9,71.0 249.4,88.6 249.9,107.1 250.4,107.3 250.9,106.8 251.4,105.4 251.9,98.9 252.4,102.7 253.0,97.3 253.5,84.8 254.0,85.7 254.5,86.9 255.0,91.1" stroke="#ff00ff" stroke-width="1.65" stroke-dasharray="12.8 7.2 1 7.6 1 7"/>
<polyline points="72.0,54.9 72.5,17.0 73.0,49.9" stroke="#0000ff" stroke-width="1.6"/>
</g>
<rect x="40.3" y="7.6" width="214.70" height="161.50" fill="none" stroke="#000" stroke-width="1.45"/>
<line x1="40.3" y1="39.50" x2="42.9" y2="39.50" stroke="#000" stroke-width="1.2"/>
<line x1="255.0" y1="39.50" x2="252.4" y2="39.50" stroke="#000" stroke-width="1.2"/>
<line x1="40.3" y1="71.45" x2="42.9" y2="71.45" stroke="#000" stroke-width="1.2"/>
<line x1="255.0" y1="71.45" x2="252.4" y2="71.45" stroke="#000" stroke-width="1.2"/>
<line x1="40.3" y1="103.35" x2="42.9" y2="103.35" stroke="#000" stroke-width="1.2"/>
<line x1="255.0" y1="103.35" x2="252.4" y2="103.35" stroke="#000" stroke-width="1.2"/>
<line x1="40.3" y1="135.30" x2="42.9" y2="135.30" stroke="#000" stroke-width="1.2"/>
<line x1="255.0" y1="135.30" x2="252.4" y2="135.30" stroke="#000" stroke-width="1.2"/>
<line x1="40.3" y1="167.20" x2="42.9" y2="167.20" stroke="#000" stroke-width="1.2"/>
<line x1="255.0" y1="167.20" x2="252.4" y2="167.20" stroke="#000" stroke-width="1.2"/>
<line x1="111.87" y1="7.6" x2="111.87" y2="10.2" stroke="#000" stroke-width="1.2"/>
<line x1="111.87" y1="169.1" x2="111.87" y2="166.5" stroke="#000" stroke-width="1.2"/>
<line x1="183.43" y1="7.6" x2="183.43" y2="10.2" stroke="#000" stroke-width="1.2"/>
<line x1="183.43" y1="169.1" x2="183.43" y2="166.5" stroke="#000" stroke-width="1.2"/>
<text transform="translate(37.60,15.55) scale(1,1.07)" font-size="13.5" text-anchor="end">4</text>
<text transform="translate(37.60,47.45) scale(1,1.07)" font-size="13.5" text-anchor="end">2</text>
<text transform="translate(37.60,79.40) scale(1,1.07)" font-size="13.5" text-anchor="end">0</text>
<text transform="translate(37.60,111.30) scale(1,1.07)" font-size="13.5" text-anchor="end">-2</text>
<text transform="translate(37.60,143.25) scale(1,1.07)" font-size="13.5" text-anchor="end">-4</text>
<text transform="translate(37.60,175.15) scale(1,1.07)" font-size="13.5" text-anchor="end">-6</text>
<text transform="translate(45.15,190.30) scale(1,1.07)" font-size="13.5" text-anchor="middle">1.97</text>
<text transform="translate(116.95,190.30) scale(1,1.07)" font-size="13.5" text-anchor="middle">1.98</text>
<text transform="translate(187.80,190.30) scale(1,1.07)" font-size="13.5" text-anchor="middle">1.99</text>
<text transform="translate(257.90,190.30) scale(1,1.07)" font-size="13.5" text-anchor="middle">2</text>
<text transform="translate(153.70,208.40) scale(1,1.06)" font-size="15.2" text-anchor="middle">t/step</text>
<text transform="translate(222.80,213.00) scale(1,0.95)" font-size="16.5">×</text>
<text transform="translate(238.60,211.70) scale(0.86,1.02)" font-size="13.5">10</text>
<text transform="translate(251.60,204.30) scale(1,1.1)" font-size="9.6">4</text>
<text transform="translate(150.90,236.00) scale(1,1.04)" font-size="13.9" text-anchor="middle">(a)</text>
<text transform="translate(16.3,86.2) rotate(-90) scale(1.068,1.0)" font-size="15.3" text-anchor="middle">True value and filters</text>
<clipPath id="cr"><rect x="323.3" y="7.6" width="214.49999999999994" height="161.5"/></clipPath>
<g clip-path="url(#cr)" fill="none" stroke-linejoin="round">
<polyline points="323.3,82.5 323.8,79.2 324.3,66.3 324.8,63.8 325.3,76.7 325.9,78.7 326.4,86.5 326.9,86.3 327.4,84.7 327.9,74.0 328.4,64.4 328.9,64.7 329.4,62.5 329.9,66.7 330.4,60.1 331.0,48.4 331.5,48.5 332.0,54.9 332.5,63.2 333.0,69.7 333.5,76.6 334.0,73.2 334.5,65.2 335.0,60.0 335.6,63.2 336.1,67.2 336.6,68.8 337.1,71.1 337.6,69.7 338.1,73.0 338.6,76.8 339.1,83.7 339.6,91.3 340.2,91.8 340.7,87.0 341.2,84.9 341.7,85.7 342.2,84.9 342.7,87.1 343.2,82.4 343.7,78.4 344.2,74.3 344.8,70.1 345.3,68.7 345.8,67.5 346.3,68.5 346.8,76.0 347.3,80.6 347.8,81.3 348.3,79.8 348.8,71.8 349.3,65.0 349.9,66.6 350.4,71.3 350.9,77.4 351.4,70.4 351.9,59.4 352.4,59.3 352.9,55.6 353.4,50.4 353.9,55.4 354.5,64.3 355.0,60.1 355.5,57.8 356.0,60.2 356.5,65.1 357.0,70.7 357.5,79.1 358.0,78.6 358.5,84.3 359.1,87.6 359.6,82.8 360.1,69.6 360.6,61.7 361.1,66.7 361.6,77.5 362.1,84.7 362.6,86.8 363.1,87.8 363.6,91.9 364.2,103.5 364.7,104.7 365.2,102.1 365.7,99.4 366.2,100.2 366.7,106.0 367.2,104.3 367.7,103.4 368.2,110.3 368.8,115.6 369.3,116.0 369.8,113.3 370.3,109.1 370.8,108.1 371.3,115.9 371.8,116.4 372.3,107.5 372.8,114.5 373.4,121.4 373.9,120.8 374.4,121.7 374.9,123.0 375.4,128.2 375.9,127.8 376.4,130.1 376.9,132.4 377.4,127.0 377.9,121.8 378.5,127.5 379.0,131.9 379.5,125.2 380.0,115.3 380.5,106.1 381.0,112.2 381.5,124.7 382.0,134.7 382.5,140.4 383.1,134.8 383.6,115.6 384.1,109.8 384.6,114.5 385.1,116.8 385.6,123.4 386.1,128.7 386.6,126.9 387.1,122.8 387.6,110.0 388.2,104.4 388.7,102.1 389.2,102.3 389.7,112.1 390.2,109.5 390.7,100.1 391.2,89.9 391.7,85.1 392.2,82.7 392.8,81.9 393.3,81.9 393.8,82.8 394.3,83.9 394.8,87.8 395.3,90.3 395.8,89.7 396.3,95.3 396.8,91.8 397.4,94.9 397.9,106.1 398.4,107.1 398.9,99.3 399.4,87.7 399.9,85.5 400.4,87.0 400.9,87.5 401.4,83.9 401.9,80.4 402.5,77.2 403.0,76.5 403.5,77.6 404.0,79.3 404.5,77.2 405.0,77.4 405.5,84.1 406.0,93.4 406.5,96.8 407.1,96.1 407.6,93.0 408.1,94.1 408.6,93.3 409.1,91.2 409.6,79.5 410.1,65.9 410.6,65.2 411.1,65.8 411.7,68.1 412.2,81.5 412.7,89.7 413.2,97.6 413.7,119.4 414.2,123.3 414.7,122.0 415.2,131.4 415.7,134.1 416.2,129.0 416.8,128.3 417.3,138.6 417.8,134.6 418.3,122.6 418.8,127.9 419.3,124.7 419.8,112.7 420.3,107.5 420.8,105.7 421.4,106.3 421.9,113.0 422.4,116.8 422.9,107.0 423.4,105.5 423.9,106.5 424.4,108.1 424.9,113.9 425.4,120.5 426.0,133.1 426.5,147.4 427.0,155.3 427.5,162.5 428.0,164.9 428.5,166.9 429.0,165.3 429.5,162.1 430.0,162.4 430.5,162.8 431.1,158.9 431.6,149.4 432.1,130.8 432.6,116.0 433.1,119.2 433.6,122.6 434.1,124.5 434.6,115.7 435.1,97.1 435.7,84.0 436.2,79.6 436.7,76.3 437.2,74.5 437.7,75.3 438.2,76.1 438.7,79.2 439.2,81.9 439.7,76.6 440.3,76.1 440.8,75.6 441.3,75.3 441.8,75.3 442.3,75.2 442.8,78.6 443.3,79.4 443.8,83.8 444.3,95.2 444.8,101.8 445.4,105.8 445.9,110.8 446.4,114.6 446.9,121.1 447.4,117.6 447.9,107.2 448.4,102.2 448.9,106.1 449.4,106.0 450.0,105.0 450.5,91.4 451.0,85.0 451.5,84.0 452.0,86.9 452.5,88.6 453.0,85.1 453.5,85.8 454.0,88.4 454.6,90.9 455.1,97.0 455.6,104.4 456.1,107.9 456.6,108.0 457.1,106.4 457.6,103.7 458.1,102.8 458.6,105.6 459.1,108.0 459.7,101.0 460.2,97.1 460.7,105.7 461.2,109.5 461.7,115.0 462.2,126.4 462.7,129.0 463.2,115.2 463.7,111.7 464.3,113.9 464.8,106.1 465.3,96.5 465.8,96.5 466.3,101.3 466.8,100.2 467.3,102.7 467.8,104.5 468.3,102.4 468.9,100.2 469.4,94.0 469.9,87.8 470.4,85.0 470.9,85.4 471.4,82.4 471.9,82.3 472.4,83.3 472.9,93.1 473.4,95.1 474.0,91.4 474.5,91.7 475.0,94.3 475.5,106.3 476.0,116.7 476.5,120.4 477.0,128.3 477.5,126.0 478.0,115.3 478.6,115.9 479.1,126.2 479.6,138.7 480.1,145.8 480.6,153.6 481.1,166.9 481.6,162.5 482.1,157.2 482.6,149.2 483.2,141.3 483.7,143.7 484.2,148.8 484.7,149.3 485.2,142.9 485.7,135.5 486.2,130.1 486.7,121.8 487.2,113.7 487.8,112.4 488.3,116.9 488.8,121.3 489.3,126.4 489.8,131.0 490.3,131.7 490.8,128.2 491.3,111.9 491.8,97.1 492.3,98.6 492.9,103.7 493.4,109.1 493.9,109.3 494.4,111.1 494.9,110.5 495.4,99.6 495.9,91.1 496.4,89.4 496.9,97.5 497.5,103.6 498.0,102.8 498.5,102.3 499.0,102.5 499.5,101.3 500.0,98.9 500.5,90.4 501.0,84.5 501.5,88.3 502.0,87.3 502.6,82.1 503.1,84.0 503.6,88.7 504.1,94.2 504.6,92.5 505.1,90.3 505.6,90.7 506.1,98.9 506.6,111.0 507.2,122.5 507.7,124.9 508.2,119.8 508.7,122.0 509.2,130.8 509.7,127.9 510.2,124.7 510.7,117.9 511.2,108.6 511.8,106.5 512.3,112.6 512.8,114.2 513.3,105.3 513.8,102.0 514.3,101.8 514.8,93.2 515.3,93.8 515.8,94.4 516.3,92.9 516.9,98.1 517.4,103.0 517.9,93.3 518.4,92.4 518.9,99.5 519.4,105.1 519.9,112.5 520.4,121.7 520.9,120.2 521.5,106.6 522.0,107.7 522.5,112.2 523.0,108.0 523.5,101.5 524.0,103.2 524.5,105.8 525.0,105.3 525.5,99.8 526.1,93.1 526.6,98.2 527.1,97.5 527.6,100.1 528.1,97.2 528.6,78.5 529.1,72.7 529.6,87.4 530.1,95.3 530.6,94.8 531.2,93.2 531.7,96.7 532.2,91.6 532.7,93.8 533.2,107.0 533.7,118.3 534.2,125.5 534.7,120.1 535.2,115.4 535.8,116.1 536.3,114.3 536.8,117.5 537.3,116.7 537.8,111.3" stroke="#000000" stroke-width="1.65"/>
<polyline points="323.3,86.7 323.8,91.3 324.3,79.6 324.8,74.8 325.3,78.8 325.9,81.9 326.4,82.5 326.9,83.7 327.4,76.3 327.9,64.1 328.4,59.5 328.9,60.4 329.4,65.2 329.9,70.3 330.4,72.8 331.0,75.2 331.5,64.5 332.0,48.8 332.5,49.0 333.0,50.9 333.5,53.5 334.0,70.1 334.5,77.5 335.0,75.7 335.6,72.6 336.1,75.4 336.6,74.8 337.1,73.2 337.6,75.8 338.1,77.4 338.6,79.5 339.1,81.5 339.6,84.9 340.2,86.5 340.7,92.1 341.2,92.9 341.7,93.7 342.2,94.4 342.7,95.2 343.2,87.4 343.7,83.4 344.2,80.6 344.8,75.0 345.3,69.6 345.8,68.5 346.3,69.1 346.8,72.2 347.3,76.2 347.8,73.9 348.3,68.6 348.8,70.0 349.3,63.7 349.9,57.9 350.4,61.5 350.9,62.3 351.4,61.3 351.9,63.2 352.4,55.2 352.9,52.7 353.4,59.2 353.9,72.2 354.5,79.1 355.0,78.1 355.5,72.8 356.0,71.9 356.5,78.4 357.0,78.5 357.5,68.9 358.0,66.3 358.5,75.5 359.1,78.3 359.6,80.9 360.1,83.6 360.6,84.5 361.1,83.5 361.6,85.3 362.1,84.1 362.6,75.8 363.1,72.2 363.6,75.6 364.2,90.5 364.7,102.0 365.2,106.7 365.7,108.4 366.2,106.4 366.7,110.0 367.2,109.3 367.7,103.4 368.2,102.7 368.8,103.5 369.3,110.9 369.8,121.3 370.3,121.4 370.8,124.8 371.3,124.2 371.8,120.4 372.3,115.8 372.8,110.3 373.4,106.1 373.9,112.1 374.4,120.7 374.9,124.9 375.4,121.4 375.9,121.8 376.4,128.0 376.9,132.1 377.4,124.8 377.9,123.7 378.5,127.6 379.0,124.3 379.5,125.6 380.0,117.4 380.5,105.0 381.0,104.2 381.5,105.4 382.0,119.5 382.5,134.4 383.1,140.7 383.6,136.4 384.1,123.8 384.6,114.9 385.1,112.2 385.6,112.0 386.1,110.2 386.6,117.5 387.1,116.7 387.6,111.8 388.2,108.7 388.7,104.1 389.2,99.0 389.7,100.2 390.2,104.6 390.7,100.6 391.2,92.6 391.7,89.4 392.2,88.6 392.8,85.8 393.3,82.5 393.8,82.7 394.3,83.5 394.8,84.2 395.3,84.9 395.8,88.6 396.3,104.7 396.8,119.6 397.4,115.9 397.9,117.3 398.4,114.2 398.9,102.0 399.4,95.2 399.9,96.3 400.4,94.3 400.9,84.1 401.4,78.8 401.9,78.0 402.5,78.8 403.0,84.0 403.5,83.1 404.0,83.4 404.5,84.7 405.0,81.2 405.5,77.5 406.0,74.3 406.5,74.6 407.1,89.3 407.6,98.1 408.1,93.7 408.6,80.2 409.1,77.0 409.6,83.2 410.1,83.4 410.6,79.3 411.1,68.7 411.7,68.2 412.2,70.4 412.7,76.7 413.2,87.6 413.7,109.4 414.2,126.0 414.7,128.4 415.2,124.0 415.7,138.3 416.2,142.8 416.8,136.1 417.3,136.2 417.8,141.2 418.3,140.5 418.8,128.8 419.3,117.7 419.8,117.0 420.3,117.1 420.8,115.9 421.4,112.1 421.9,123.0 422.4,122.2 422.9,120.9 423.4,122.8 423.9,117.4 424.4,114.8 424.9,115.0 425.4,122.5 426.0,126.7 426.5,132.6 427.0,145.0 427.5,153.8 428.0,164.9 428.5,166.9 429.0,168.5 429.5,164.2 430.0,158.3 430.5,149.5 431.1,153.5 431.6,147.2 432.1,128.7 432.6,107.3 433.1,103.4 433.6,107.0 434.1,116.7 434.6,119.3 435.1,115.2 435.7,113.4 436.2,105.9 436.7,96.8 437.2,85.9 437.7,85.1 438.2,91.6 438.7,95.5 439.2,84.2 439.7,76.7 440.3,80.6 440.8,76.7 441.3,75.3 441.8,75.3 442.3,75.5 442.8,84.9 443.3,84.8 443.8,80.8 444.3,85.8 444.8,93.7 445.4,102.4 445.9,104.4 446.4,106.2 446.9,111.8 447.4,114.3 447.9,111.6 448.4,104.4 448.9,102.7 449.4,106.0 450.0,107.7 450.5,91.7 451.0,80.4 451.5,81.3 452.0,82.3 452.5,89.8 453.0,95.8 453.5,89.2 454.0,84.3 454.6,84.6 455.1,90.7 455.6,97.4 456.1,102.4 456.6,101.7 457.1,106.4 457.6,106.5 458.1,112.2 458.6,120.0 459.1,122.4 459.7,106.4 460.2,97.1 460.7,103.1 461.2,111.3 461.7,122.6 462.2,121.5 462.7,127.2 463.2,138.8 463.7,135.8 464.3,125.7 464.8,113.9 465.3,112.9 465.8,103.6 466.3,96.7 466.8,89.9 467.3,88.9 467.8,95.1 468.3,102.6 468.9,105.9 469.4,103.9 469.9,99.9 470.4,99.6 470.9,98.4 471.4,90.0 471.9,88.4 472.4,87.0 472.9,86.5 473.4,89.1 474.0,92.9 474.5,91.7 475.0,94.3 475.5,96.8 476.0,106.5 476.5,124.4 477.0,132.4 477.5,127.6 478.0,126.4 478.6,121.5 479.1,124.4 479.6,138.6 480.1,154.9 480.6,157.1 481.1,155.6 481.6,154.6 482.1,151.4 482.6,135.5 483.2,128.5 483.7,125.9 484.2,123.4 484.7,132.9 485.2,145.7 485.7,143.5 486.2,135.5 486.7,135.6 487.2,135.9 487.8,131.7 488.3,119.9 488.8,119.8 489.3,125.5 489.8,129.1 490.3,128.8 490.8,120.3 491.3,107.0 491.8,97.1 492.3,95.8 492.9,94.5 493.4,94.5 493.9,105.3 494.4,117.1 494.9,121.0 495.4,111.9 495.9,106.6 496.4,100.2 496.9,91.1 497.5,86.1 498.0,87.8 498.5,101.6 499.0,105.6 499.5,99.9 500.0,92.7 500.5,95.3 501.0,91.2 501.5,81.2 502.0,75.8 502.6,75.6 503.1,76.6 503.6,85.2 504.1,102.3 504.6,110.5 505.1,107.6 505.6,105.2 506.1,100.5 506.6,108.6 507.2,119.7 507.7,123.8 508.2,127.2 508.7,131.0 509.2,130.8 509.7,124.9 510.2,122.0 510.7,122.1 511.2,120.0 511.8,118.7 512.3,112.2 512.8,106.1 513.3,100.6 513.8,97.5 514.3,100.1 514.8,97.2 515.3,89.4 515.8,89.4 516.3,89.4 516.9,89.4 517.4,89.4 517.9,91.5 518.4,94.7 518.9,98.4 519.4,106.5 519.9,114.5 520.4,121.7 520.9,118.4 521.5,119.3 522.0,116.9 522.5,112.2 523.0,106.5 523.5,98.8 524.0,96.1 524.5,99.0 525.0,100.5 525.5,103.2 526.1,102.0 526.6,99.2 527.1,94.4 527.6,88.4 528.1,81.6 528.6,74.3 529.1,75.2 529.6,84.8 530.1,83.9 530.6,95.8 531.2,108.5 531.7,108.5 532.2,105.7 532.7,101.3 533.2,100.7 533.7,110.0 534.2,119.7 534.7,129.0 535.2,124.8 535.8,119.6 536.3,115.2 536.8,109.1 537.3,103.3 537.8,102.6" stroke="#ff0000" stroke-width="1.65" stroke-dasharray="2.5 2.3"/>
<polyline points="323.3,86.7 323.8,82.2 324.3,76.8 324.8,75.2 325.3,77.3 325.9,73.5 326.4,73.1 326.9,74.4 327.4,66.1 327.9,63.4 328.4,61.0 328.9,65.3 329.4,68.6 329.9,72.5 330.4,68.2 331.0,50.7 331.5,48.5 332.0,51.4 332.5,63.4 333.0,70.8 333.5,76.8 334.0,82.1 334.5,83.7 335.0,72.4 335.6,62.3 336.1,58.3 336.6,71.1 337.1,77.9 337.6,70.3 338.1,65.3 338.6,64.0 339.1,72.2 339.6,82.6 340.2,83.1 340.7,79.1 341.2,81.6 341.7,86.0 342.2,92.3 342.7,94.3 343.2,89.8 343.7,85.1 344.2,77.3 344.8,69.4 345.3,70.0 345.8,69.7 346.3,72.6 346.8,72.1 347.3,79.9 347.8,79.0 348.3,75.6 348.8,69.9 349.3,58.3 349.9,56.4 350.4,64.4 350.9,65.4 351.4,62.9 351.9,64.1 352.4,60.6 352.9,57.5 353.4,60.3 353.9,66.8 354.5,82.1 355.0,39.5 355.5,83.5 356.0,81.4 356.5,75.8 357.0,65.8 357.5,60.8 358.0,60.5 358.5,67.7 359.1,80.0 359.6,88.2 360.1,85.2 360.6,72.3 361.1,67.7 361.6,67.5 362.1,70.8 362.6,78.3 363.1,80.0 363.6,88.3 364.2,92.0 364.7,98.2 365.2,104.9 365.7,104.2 366.2,104.8 366.7,103.1 367.2,99.0 367.7,96.2 368.2,97.5 368.8,103.2 369.3,115.0 369.8,119.6 370.3,117.6 370.8,121.1 371.3,116.0 371.8,103.0 372.3,102.4 372.8,107.8 373.4,109.1 373.9,115.3 374.4,120.8 374.9,123.0 375.4,125.2 375.9,126.4 376.4,124.6 376.9,129.7 377.4,133.3 377.9,127.4 378.5,126.4 379.0,129.7 379.5,125.6 380.0,124.8 380.5,116.6 381.0,105.7 381.5,104.2 382.0,125.3 382.5,138.1 383.1,138.6 383.6,135.3 384.1,128.3 384.6,124.5 385.1,120.3 385.6,115.6 386.1,112.8 386.6,115.3 387.1,106.9 387.6,100.5 388.2,95.7 388.7,93.9 389.2,103.1 389.7,107.5 390.2,104.9 390.7,96.7 391.2,84.2 391.7,83.4 392.2,84.6 392.8,88.3 393.3,88.4 393.8,88.9 394.3,91.6 394.8,92.5 395.3,91.6 395.8,85.6 396.3,86.3 396.8,97.6 397.4,112.7 397.9,117.3 398.4,115.2 398.9,109.9 399.4,102.3 399.9,93.9 400.4,85.1 400.9,83.4 401.4,78.8 401.9,78.0 402.5,77.2 403.0,76.5 403.5,76.7 404.0,79.1 404.5,77.2 405.0,77.8 405.5,76.3 406.0,77.2 406.5,89.2 407.1,97.0 407.6,96.7 408.1,83.3 408.6,71.3 409.1,66.6 409.6,76.7 410.1,80.6 410.6,73.2 411.1,65.8 411.7,71.0 412.2,87.3 412.7,85.0 413.2,80.4 413.7,91.5 414.2,103.0 414.7,132.5 415.2,137.7 415.7,141.6 416.2,143.0 416.8,135.3 417.3,133.3 417.8,137.4 418.3,132.1 418.8,125.8 419.3,118.2 419.8,114.7 420.3,115.7 420.8,116.8 421.4,112.9 421.9,109.3 422.4,105.8 422.9,102.0 423.4,103.1 423.9,109.5 424.4,116.4 424.9,127.6 425.4,134.2 426.0,135.6 426.5,136.3 427.0,142.4 427.5,151.7 428.0,164.9 428.5,166.9 429.0,168.8 429.5,166.8 430.0,164.8 430.5,162.1 431.1,158.1 431.6,144.5 432.1,127.6 432.6,118.9 433.1,119.2 433.6,105.4 434.1,102.8 434.6,116.5 435.1,114.2 435.7,106.9 436.2,99.4 436.7,99.9 437.2,91.4 437.7,77.2 438.2,77.1 438.7,76.9 439.2,77.1 439.7,76.6 440.3,76.3 440.8,75.6 441.3,75.3 441.8,80.7 442.3,81.2 442.8,76.5 443.3,76.6 443.8,78.9 444.3,88.3 444.8,98.1 445.4,108.3 445.9,118.0 446.4,114.5 446.9,109.1 447.4,107.8 447.9,111.2 448.4,110.8 448.9,99.7 449.4,92.6 450.0,88.2 450.5,82.2 451.0,80.4 451.5,81.5 452.0,88.9 452.5,88.8 453.0,86.4 453.5,84.9 454.0,84.3 454.6,90.6 455.1,94.5 455.6,92.9 456.1,94.0 456.6,101.8 457.1,93.8 457.6,97.9 458.1,104.1 458.6,106.9 459.1,100.9 459.7,102.1 460.2,101.1 460.7,104.2 461.2,120.0 461.7,131.0 462.2,130.6 462.7,125.0 463.2,120.9 463.7,127.0 464.3,114.8 464.8,99.4 465.3,104.2 465.8,105.6 466.3,94.6 466.8,95.1 467.3,104.8 467.8,105.7 468.3,104.7 468.9,101.2 469.4,90.0 469.9,89.0 470.4,91.8 470.9,92.5 471.4,84.2 471.9,82.3 472.4,83.3 472.9,84.3 473.4,86.7 474.0,91.3 474.5,97.6 475.0,106.9 475.5,112.7 476.0,122.0 476.5,132.1 477.0,131.2 477.5,118.6 478.0,112.1 478.6,115.9 479.1,124.7 479.6,138.6 480.1,138.3 480.6,140.9 481.1,159.8 481.6,161.2 482.1,149.8 482.6,141.3 483.2,140.8 483.7,148.1 484.2,144.6 484.7,139.1 485.2,134.9 485.7,133.0 486.2,141.2 486.7,136.8 487.2,123.1 487.8,120.0 488.3,122.7 488.8,122.7 489.3,127.0 489.8,131.1 490.3,120.7 490.8,112.6 491.3,109.1 491.8,103.2 492.3,99.1 492.9,104.9 493.4,108.2 493.9,107.0 494.4,111.9 494.9,119.0 495.4,114.4 495.9,97.3 496.4,90.6 496.9,95.6 497.5,95.9 498.0,96.4 498.5,99.5 499.0,98.4 499.5,90.8 500.0,87.3 500.5,81.2 501.0,76.3 501.5,76.1 502.0,76.1 502.6,79.4 503.1,89.0 503.6,94.4 504.1,98.5 504.6,95.9 505.1,87.0 505.6,88.4 506.1,105.0 506.6,115.2 507.2,125.6 507.7,125.9 508.2,121.5 508.7,121.8 509.2,129.5 509.7,127.6 510.2,125.0 510.7,122.1 511.2,120.0 511.8,118.3 512.3,114.9 512.8,110.6 513.3,102.2 513.8,96.6 514.3,103.5 514.8,109.7 515.3,108.4 515.8,105.9 516.3,96.5 516.9,89.4 517.4,89.4 517.9,95.2 518.4,97.0 518.9,100.9 519.4,109.5 519.9,115.3 520.4,118.7 520.9,120.0 521.5,120.1 522.0,116.9 522.5,113.8 523.0,110.7 523.5,109.4 524.0,108.1 524.5,106.8 525.0,102.2 525.5,100.5 526.1,96.5 526.6,86.7 527.1,92.5 527.6,93.2 528.1,83.7 528.6,77.6 529.1,75.5 529.6,85.2 530.1,97.1 530.6,102.4 531.2,100.8 531.7,100.2 532.2,100.6 532.7,107.3 533.2,99.5 533.7,104.7 534.2,121.2 534.7,121.1 535.2,115.6 535.8,117.9 536.3,118.3 536.8,117.5 537.3,116.7 537.8,110.8" stroke="#0000ff" stroke-width="1.65" stroke-dasharray="12.7 7.4"/>
<polyline points="323.3,85.7 323.8,77.2 324.3,67.8 324.8,69.9 325.3,69.2 325.9,76.3 326.4,80.6 326.9,84.9 327.4,76.2 327.9,60.5 328.4,61.7 328.9,67.5 329.4,69.8 329.9,73.1 330.4,66.9 331.0,56.6 331.5,50.2 332.0,58.6 332.5,67.5 333.0,70.5 333.5,76.8 334.0,85.9 334.5,88.5 335.0,80.0 335.6,65.7 336.1,63.1 336.6,71.0 337.1,75.0 337.6,68.0 338.1,67.2 338.6,80.6 339.1,87.9 339.6,90.3 340.2,89.7 340.7,85.3 341.2,87.5 341.7,90.3 342.2,94.4 342.7,95.2 343.2,90.2 343.7,84.3 344.2,87.6 344.8,83.4 345.3,70.2 345.8,67.5 346.3,68.2 346.8,79.7 347.3,84.1 347.8,78.9 348.3,72.7 348.8,64.5 349.3,60.8 349.9,64.4 350.4,68.7 350.9,73.8 351.4,75.4 351.9,69.8 352.4,56.6 352.9,51.3 353.4,50.4 353.9,54.8 354.5,68.8 355.0,68.4 355.5,59.9 356.0,63.2 356.5,58.8 357.0,58.4 357.5,65.3 358.0,72.2 358.5,71.3 359.1,71.0 359.6,80.1 360.1,73.3 360.6,60.9 361.1,61.7 361.6,73.7 362.1,76.3 362.6,80.3 363.1,87.0 363.6,87.7 364.2,90.1 364.7,101.9 365.2,106.7 365.7,109.5 366.2,113.3 366.7,111.5 367.2,100.1 367.7,99.1 368.2,110.1 368.8,116.0 369.3,122.3 369.8,126.8 370.3,126.4 370.8,117.6 371.3,111.8 371.8,105.4 372.3,103.0 372.8,103.9 373.4,106.8 373.9,115.4 374.4,122.1 374.9,128.6 375.4,129.4 375.9,130.4 376.4,129.9 376.9,126.1 377.4,124.2 377.9,127.1 378.5,130.3 379.0,132.2 379.5,130.1 380.0,126.9 380.5,110.0 381.0,104.2 381.5,111.5 382.0,121.6 382.5,135.2 383.1,140.7 383.6,125.8 384.1,118.5 384.6,113.2 385.1,107.9 385.6,116.2 386.1,125.1 386.6,126.9 387.1,123.6 387.6,114.5 388.2,101.8 388.7,91.0 389.2,88.9 389.7,97.7 390.2,107.4 390.7,94.0 391.2,84.2 391.7,83.4 392.2,82.7 392.8,81.9 393.3,81.9 393.8,82.7 394.3,87.5 394.8,92.9 395.3,98.2 395.8,91.3 396.3,92.7 396.8,99.8 397.4,114.7 397.9,117.3 398.4,113.8 398.9,101.4 399.4,87.8 399.9,82.1 400.4,80.9 400.9,79.6 401.4,81.8 401.9,86.9 402.5,86.2 403.0,81.6 403.5,78.3 404.0,78.7 404.5,77.3 405.0,81.0 405.5,83.2 406.0,81.8 406.5,85.1 407.1,91.6 407.6,92.9 408.1,83.4 408.6,72.5 409.1,69.7 409.6,71.9 410.1,78.8 410.6,69.4 411.1,65.8 411.7,70.6 412.2,81.1 412.7,86.4 413.2,95.2 413.7,111.1 414.2,125.2 414.7,132.5 415.2,137.7 415.7,141.6 416.2,145.4 416.8,149.2 417.3,144.2 417.8,124.2 418.3,116.7 418.8,110.1 419.3,109.7 419.8,114.6 420.3,108.7 420.8,107.6 421.4,106.9 421.9,108.9 422.4,111.0 422.9,112.6 423.4,107.5 423.9,104.1 424.4,116.2 424.9,137.8 425.4,145.3 426.0,146.7 426.5,140.9 427.0,146.1 427.5,151.5 428.0,152.5 428.5,166.9 429.0,168.8 429.5,164.5 430.0,159.5 430.5,155.9 431.1,155.2 431.6,151.7 432.1,137.3 432.6,124.2 433.1,115.5 433.6,114.0 434.1,118.5 434.6,109.6 435.1,103.5 435.7,105.2 436.2,97.5 436.7,78.9 437.2,74.5 437.7,76.0 438.2,76.1 438.7,76.9 439.2,79.5 439.7,76.6 440.3,76.1 440.8,75.6 441.3,75.3 441.8,75.3 442.3,77.8 442.8,81.1 443.3,78.5 443.8,84.7 444.3,92.2 444.8,98.6 445.4,105.9 445.9,109.0 446.4,111.0 446.9,117.8 447.4,121.3 447.9,116.0 448.4,108.5 448.9,104.0 449.4,95.1 450.0,90.4 450.5,91.7 451.0,90.9 451.5,86.1 452.0,82.3 452.5,83.4 453.0,87.6 453.5,87.3 454.0,84.3 454.6,84.3 455.1,84.7 455.6,87.4 456.1,92.2 456.6,103.9 457.1,114.6 457.6,118.2 458.1,115.7 458.6,108.6 459.1,109.2 459.7,104.3 460.2,97.1 460.7,98.4 461.2,105.7 461.7,115.0 462.2,126.1 462.7,138.4 463.2,129.4 463.7,114.7 464.3,113.9 464.8,112.5 465.3,105.8 465.8,100.2 466.3,92.0 466.8,95.4 467.3,103.6 467.8,104.4 468.3,105.1 468.9,104.4 469.4,99.8 469.9,93.9 470.4,90.3 470.9,88.3 471.4,84.1 471.9,84.9 472.4,87.2 472.9,84.3 473.4,86.7 474.0,92.8 474.5,100.6 475.0,98.7 475.5,100.9 476.0,120.5 476.5,132.1 477.0,113.7 477.5,108.3 478.0,112.1 478.6,122.7 479.1,135.6 479.6,146.3 480.1,153.8 480.6,163.8 481.1,166.7 481.6,156.2 482.1,146.3 482.6,140.5 483.2,141.9 483.7,142.6 484.2,142.6 484.7,146.3 485.2,141.4 485.7,136.8 486.2,129.2 486.7,117.1 487.2,118.4 487.8,125.5 488.3,126.9 488.8,120.4 489.3,120.2 489.8,122.4 490.3,121.6 490.8,112.6 491.3,101.7 491.8,101.9 492.3,102.7 492.9,103.3 493.4,104.0 493.9,105.5 494.4,106.6 494.9,115.2 495.4,110.7 495.9,97.9 496.4,92.0 496.9,101.2 497.5,102.3 498.0,96.7 498.5,101.1 499.0,96.3 499.5,85.1 500.0,88.7 500.5,90.3 501.0,85.6 501.5,79.7 502.0,75.8 502.6,76.8 503.1,90.6 503.6,102.8 504.1,103.0 504.6,99.0 505.1,93.8 505.6,86.4 506.1,95.6 506.6,102.6 507.2,105.6 507.7,119.8 508.2,124.3 508.7,131.0 509.2,130.8 509.7,118.3 510.2,112.3 510.7,112.5 511.2,110.6 511.8,116.5 512.3,117.4 512.8,113.0 513.3,103.4 513.8,102.9 514.3,99.8 514.8,92.0 515.3,91.8 515.8,89.4 516.3,89.4 516.9,89.4 517.4,97.9 517.9,104.2 518.4,100.8 518.9,106.1 519.4,117.4 519.9,119.2 520.4,121.0 520.9,122.7 521.5,120.1 522.0,116.9 522.5,113.8 523.0,110.7 523.5,109.4 524.0,108.1 524.5,105.8 525.0,105.5 525.5,105.0 526.1,104.6 526.6,93.0 527.1,87.3 527.6,85.9 528.1,78.4 528.6,78.3 529.1,79.7 529.6,83.2 530.1,88.9 530.6,95.8 531.2,101.5 531.7,104.3 532.2,108.5 532.7,123.0 533.2,115.1 533.7,121.9 534.2,130.2 534.7,122.3 535.2,123.9 535.8,120.7 536.3,118.3 536.8,116.3 537.3,116.7 537.8,115.9" stroke="#00b050" stroke-width="1.65" stroke-dasharray="26.5 13.8"/>
<polyline points="323.3,82.1 323.8,89.8 324.3,89.0 324.8,88.2 325.3,79.6 325.9,74.2 326.4,77.0 326.9,82.7 327.4,82.3 327.9,70.0 328.4,57.5 328.9,54.5 329.4,57.2 329.9,67.3 330.4,76.6 331.0,78.8 331.5,73.9 332.0,61.9 332.5,59.6 333.0,57.7 333.5,68.3 334.0,85.0 334.5,88.5 335.0,82.6 335.6,73.9 336.1,70.5 336.6,62.4 337.1,59.4 337.6,60.2 338.1,63.7 338.6,72.7 339.1,80.5 339.6,91.3 340.2,91.8 340.7,82.7 341.2,87.7 341.7,93.7 342.2,94.4 342.7,95.2 343.2,87.9 343.7,88.5 344.2,91.7 344.8,85.3 345.3,78.2 345.8,77.0 346.3,74.8 346.8,76.9 347.3,81.1 347.8,84.7 348.3,77.3 348.8,69.7 349.3,66.4 349.9,58.6 350.4,59.7 350.9,65.2 351.4,72.7 351.9,68.7 352.4,68.9 352.9,62.7 353.4,51.0 353.9,51.7 354.5,58.5 355.0,62.5 355.5,73.2 356.0,80.6 356.5,80.3 357.0,72.1 357.5,55.0 358.0,55.8 358.5,56.6 359.1,77.2 359.6,84.2 360.1,81.0 360.6,82.9 361.1,76.4 361.6,70.3 362.1,73.9 362.6,76.7 363.1,79.3 363.6,82.7 364.2,84.8 364.7,88.8 365.2,95.4 365.7,99.8 366.2,104.2 366.7,105.4 367.2,106.1 367.7,101.0 368.2,102.7 368.8,104.0 369.3,108.0 369.8,119.6 370.3,127.6 370.8,125.2 371.3,122.5 371.8,124.7 372.3,114.9 372.8,103.1 373.4,113.8 373.9,127.7 374.4,128.6 374.9,128.6 375.4,129.4 375.9,129.4 376.4,128.1 376.9,127.8 377.4,130.8 377.9,131.5 378.5,127.6 379.0,131.4 379.5,136.4 380.0,131.3 380.5,115.7 381.0,104.2 381.5,104.7 382.0,110.9 382.5,123.5 383.1,132.9 383.6,130.6 384.1,120.8 384.6,106.5 385.1,104.1 385.6,102.8 386.1,101.6 386.6,110.0 387.1,113.8 387.6,110.3 388.2,108.4 388.7,104.7 389.2,95.0 389.7,96.2 390.2,106.5 390.7,106.9 391.2,98.5 391.7,89.7 392.2,83.7 392.8,81.9 393.3,81.9 393.8,82.7 394.3,83.5 394.8,87.6 395.3,93.7 395.8,90.9 396.3,91.4 396.8,99.6 397.4,109.3 397.9,113.9 398.4,115.2 398.9,112.4 399.4,106.6 399.9,100.5 400.4,91.5 400.9,86.6 401.4,81.9 401.9,78.0 402.5,77.2 403.0,81.8 403.5,85.7 404.0,81.2 404.5,79.5 405.0,77.6 405.5,75.8 406.0,74.3 406.5,72.7 407.1,81.9 407.6,88.4 408.1,90.9 408.6,92.1 409.1,83.2 409.6,72.3 410.1,66.0 410.6,69.8 411.1,76.0 411.7,73.2 412.2,74.8 412.7,83.1 413.2,94.4 413.7,107.4 414.2,112.3 414.7,111.4 415.2,112.4 415.7,123.0 416.2,136.9 416.8,149.2 417.3,149.3 417.8,142.9 418.3,139.5 418.8,126.9 419.3,117.0 419.8,108.7 420.3,103.4 420.8,100.0 421.4,99.1 421.9,105.1 422.4,111.9 422.9,106.9 423.4,107.0 423.9,110.3 424.4,113.1 424.9,117.4 425.4,123.0 426.0,131.5 426.5,145.7 427.0,154.8 427.5,145.2 428.0,141.4 428.5,153.1 429.0,158.0 429.5,163.9 430.0,164.8 430.5,162.8 431.1,160.2 431.6,146.0 432.1,136.1 432.6,126.6 433.1,113.1 433.6,108.5 434.1,109.8 434.6,111.1 435.1,107.9 435.7,95.1 436.2,87.2 436.7,90.5 437.2,87.8 437.7,82.8 438.2,84.5 438.7,83.7 439.2,78.2 439.7,84.0 440.3,89.8 440.8,88.0 441.3,84.9 441.8,79.9 442.3,75.2 442.8,75.2 443.3,88.6 443.8,95.2 444.3,92.3 444.8,91.7 445.4,100.4 445.9,115.4 446.4,121.5 446.9,122.5 447.4,119.9 447.9,118.9 448.4,117.7 448.9,115.9 449.4,109.3 450.0,97.3 450.5,87.6 451.0,80.4 451.5,81.3 452.0,82.3 452.5,83.4 453.0,86.7 453.5,90.6 454.0,96.1 454.6,98.1 455.1,92.2 455.6,86.4 456.1,86.8 456.6,99.3 457.1,107.4 457.6,108.3 458.1,111.1 458.6,112.8 459.1,119.3 459.7,120.5 460.2,115.5 460.7,109.6 461.2,118.8 461.7,113.6 462.2,113.6 462.7,125.5 463.2,135.6 463.7,136.5 464.3,125.9 464.8,116.1 465.3,117.8 465.8,110.2 466.3,95.2 466.8,89.9 467.3,93.1 467.8,99.0 468.3,107.1 468.9,105.9 469.4,104.6 469.9,103.2 470.4,96.3 470.9,91.9 471.4,87.3 471.9,85.4 472.4,87.3 472.9,84.3 473.4,86.7 474.0,89.2 474.5,91.7 475.0,94.3 475.5,100.3 476.0,109.0 476.5,117.0 477.0,131.8 477.5,135.3 478.0,128.7 478.6,116.2 479.1,119.8 479.6,127.4 480.1,140.9 480.6,147.1 481.1,152.5 481.6,150.4 482.1,141.7 482.6,139.8 483.2,137.9 483.7,125.9 484.2,123.4 484.7,130.9 485.2,138.5 485.7,145.7 486.2,143.1 486.7,132.6 487.2,124.0 487.8,118.4 488.3,114.1 488.8,116.8 489.3,126.5 489.8,133.2 490.3,127.6 490.8,119.0 491.3,114.3 491.8,114.8 492.3,113.3 492.9,112.6 493.4,112.8 493.9,112.0 494.4,111.8 494.9,111.0 495.4,117.3 495.9,115.3 496.4,112.0 496.9,99.8 497.5,92.2 498.0,93.9 498.5,97.4 499.0,92.8 499.5,93.3 500.0,96.4 500.5,94.7 501.0,89.9 501.5,85.9 502.0,80.0 502.6,77.3 503.1,75.6 503.6,81.1 504.1,93.6 504.6,103.7 505.1,96.8 505.6,86.4 506.1,88.2 506.6,94.8 507.2,104.1 507.7,115.6 508.2,125.3 508.7,131.0 509.2,130.8 509.7,127.9 510.2,125.0 510.7,122.1 511.2,116.1 511.8,110.5 512.3,113.5 512.8,116.1 513.3,115.1 513.8,108.1 514.3,106.0 514.8,105.1 515.3,102.0 515.8,100.5 516.3,93.8 516.9,95.6 517.4,97.6 517.9,96.3 518.4,96.4 518.9,92.8 519.4,90.5 519.9,109.2 520.4,121.7 520.9,122.7 521.5,120.1 522.0,110.9 522.5,109.7 523.0,109.6 523.5,109.4 524.0,108.1 524.5,106.8 525.0,104.0 525.5,105.0 526.1,104.6 526.6,98.5 527.1,96.2 527.6,92.3 528.1,83.8 528.6,76.3 529.1,80.7 529.6,83.3 530.1,88.8 530.6,98.3 531.2,106.8 531.7,101.5 532.2,93.1 532.7,89.9 533.2,99.0 533.7,107.4 534.2,115.0 534.7,123.8 535.2,124.8 535.8,120.7 536.3,115.1 536.8,111.2 537.3,107.1 537.8,107.2" stroke="#7030a0" stroke-width="1.65" stroke-dasharray="13.2 7.5 1 7.5"/>
<polyline points="323.3,97.0 323.8,89.3 324.3,69.2 324.8,77.4 325.3,86.7 325.9,83.4 326.4,86.1 326.9,83.5 327.4,72.1 327.9,59.9 328.4,68.1 328.9,73.9 329.4,80.2 329.9,65.6 330.4,50.0 331.0,51.8 331.5,61.4 332.0,64.7 332.5,63.8 333.0,65.8 333.5,74.2 334.0,72.1 334.5,71.6 335.0,62.7 335.6,57.8 336.1,58.3 336.6,62.8 337.1,75.0 337.6,74.1 338.1,77.9 338.6,83.7 339.1,87.6 339.6,83.4 340.2,88.7 340.7,92.3 341.2,92.9 341.7,87.4 342.2,83.8 342.7,90.0 343.2,91.1 343.7,82.5 344.2,79.2 344.8,70.9 345.3,68.7 345.8,67.5 346.3,78.7 346.8,87.7 347.3,79.4 347.8,65.6 348.3,65.2 348.8,68.1 349.3,69.2 349.9,73.3 350.4,77.2 350.9,64.2 351.4,61.1 351.9,70.3 352.4,62.5 352.9,57.1 353.4,53.8 353.9,54.7 354.5,68.6 355.0,54.3 355.5,49.1 356.0,61.5 356.5,67.6 357.0,62.7 357.5,66.7 358.0,71.8 358.5,76.8 359.1,81.0 359.6,87.1 360.1,77.9 360.6,69.7 361.1,64.5 361.6,75.6 362.1,85.6 362.6,91.6 363.1,90.4 363.6,96.0 364.2,98.9 364.7,102.5 365.2,103.4 365.7,100.2 366.2,105.4 366.7,113.2 367.2,112.9 367.7,113.5 368.2,112.0 368.8,114.9 369.3,125.2 369.8,124.3 370.3,122.5 370.8,115.8 371.3,110.4 371.8,108.1 372.3,114.8 372.8,118.3 373.4,122.1 373.9,122.9 374.4,126.6 374.9,128.1 375.4,127.2 375.9,125.3 376.4,129.1 376.9,132.2 377.4,133.3 377.9,130.8 378.5,128.5 379.0,126.2 379.5,117.9 380.0,107.1 380.5,105.0 381.0,114.0 381.5,125.2 382.0,127.6 382.5,136.8 383.1,133.6 383.6,132.0 384.1,119.3 384.6,104.3 385.1,106.4 385.6,108.7 386.1,118.3 386.6,121.1 387.1,117.1 387.6,106.6 388.2,98.3 388.7,99.3 389.2,104.0 389.7,110.5 390.2,105.3 390.7,95.6 391.2,89.2 391.7,83.4 392.2,82.7 392.8,87.1 393.3,93.1 393.8,94.4 394.3,93.9 394.8,91.2 395.3,90.5 395.8,88.9 396.3,94.7 396.8,100.8 397.4,118.7 397.9,117.3 398.4,114.0 398.9,102.4 399.4,89.2 399.9,82.5 400.4,86.5 400.9,90.3 401.4,85.7 401.9,78.0 402.5,77.2 403.0,76.5 403.5,76.7 404.0,77.4 404.5,77.2 405.0,77.4 405.5,76.8 406.0,92.3 406.5,100.7 407.1,100.6 407.6,95.2 408.1,86.1 408.6,82.0 409.1,76.8 409.6,69.6 410.1,72.1 410.6,82.4 411.1,79.8 411.7,72.9 412.2,77.6 412.7,89.2 413.2,107.1 413.7,112.9 414.2,123.9 414.7,130.0 415.2,130.6 415.7,129.8 416.2,133.8 416.8,134.7 417.3,137.1 417.8,147.0 418.3,144.4 418.8,135.8 419.3,124.8 419.8,112.0 420.3,109.3 420.8,118.0 421.4,122.2 421.9,123.5 422.4,118.1 422.9,107.1 423.4,99.9 423.9,107.8 424.4,119.6 424.9,117.4 425.4,138.3 426.0,150.5 426.5,155.6 427.0,160.7 427.5,162.9 428.0,164.9 428.5,166.9 429.0,168.8 429.5,166.8 430.0,156.1 430.5,139.8 431.1,140.3 431.6,128.5 432.1,111.0 432.6,111.7 433.1,110.4 433.6,111.2 434.1,123.1 434.6,119.3 435.1,115.2 435.7,105.3 436.2,88.9 436.7,76.3 437.2,76.6 437.7,75.6 438.2,82.1 438.7,87.7 439.2,84.1 439.7,76.6 440.3,76.1 440.8,83.3 441.3,89.8 441.8,89.9 442.3,82.6 442.8,83.1 443.3,91.8 443.8,92.0 444.3,97.4 444.8,97.1 445.4,94.8 445.9,103.9 446.4,118.7 446.9,121.5 447.4,116.4 447.9,107.3 448.4,101.4 448.9,98.7 449.4,90.0 450.0,84.0 450.5,82.3 451.0,88.9 451.5,85.2 452.0,86.5 452.5,88.5 453.0,88.8 453.5,84.4 454.0,84.3 454.6,86.8 455.1,90.3 455.6,95.8 456.1,103.5 456.6,112.8 457.1,115.2 457.6,109.0 458.1,99.3 458.6,93.2 459.1,97.9 459.7,107.2 460.2,112.3 460.7,115.8 461.2,114.8 461.7,121.0 462.2,137.8 462.7,139.3 463.2,131.2 463.7,116.1 464.3,110.4 464.8,112.7 465.3,105.3 465.8,94.0 466.3,95.9 466.8,97.7 467.3,105.3 467.8,108.4 468.3,107.1 468.9,105.9 469.4,95.6 469.9,90.1 470.4,86.1 470.9,84.8 471.4,86.2 471.9,85.5 472.4,83.3 472.9,84.3 473.4,89.1 474.0,94.4 474.5,100.1 475.0,108.8 475.5,115.6 476.0,124.1 476.5,124.0 477.0,124.9 477.5,119.5 478.0,112.5 478.6,115.9 479.1,121.4 479.6,133.5 480.1,148.3 480.6,159.5 481.1,155.4 481.6,144.4 482.1,132.6 482.6,130.1 483.2,136.3 483.7,148.0 484.2,153.6 484.7,152.6 485.2,144.1 485.7,134.8 486.2,127.0 486.7,122.3 487.2,122.7 487.8,126.3 488.3,119.2 488.8,124.4 489.3,131.8 489.8,126.3 490.3,118.4 490.8,105.2 491.3,98.4 491.8,97.1 492.3,99.6 492.9,105.4 493.4,113.1 493.9,113.1 494.4,112.2 494.9,109.5 495.4,104.1 495.9,95.1 496.4,94.9 496.9,96.8 497.5,102.1 498.0,106.7 498.5,102.3 499.0,95.6 499.5,88.9 500.0,89.3 500.5,84.2 501.0,76.7 501.5,76.1 502.0,75.8 502.6,79.0 503.1,86.0 503.6,91.9 504.1,94.5 504.6,97.8 505.1,94.4 505.6,96.4 506.1,104.3 506.6,118.2 507.2,126.3 507.7,127.9 508.2,129.4 508.7,119.3 509.2,118.3 509.7,121.0 510.2,120.3 510.7,122.1 511.2,120.0 511.8,118.7 512.3,117.4 512.8,113.5 513.3,108.9 513.8,107.5 514.3,105.7 514.8,103.7 515.3,99.2 515.8,98.3 516.3,96.7 516.9,91.9 517.4,89.4 517.9,91.0 518.4,97.7 518.9,98.6 519.4,104.7 519.9,112.1 520.4,114.6 520.9,110.7 521.5,117.5 522.0,116.9 522.5,113.3 523.0,110.2 523.5,108.4 524.0,105.1 524.5,106.6 525.0,103.4 525.5,95.7 526.1,96.7 526.6,93.9 527.1,84.5 527.6,82.7 528.1,73.3 528.6,70.2 529.1,69.8 529.6,82.7 530.1,98.3 530.6,94.3 531.2,84.4 531.7,82.5 532.2,89.8 532.7,98.7 533.2,116.0 533.7,133.8 534.2,133.1 534.7,123.8 535.2,120.8 535.8,119.9 536.3,118.3 536.8,117.5 537.3,116.7 537.8,111.6" stroke="#ff00ff" stroke-width="1.65" stroke-dasharray="12.8 7.2 1 7.6 1 7"/>
<polyline points="354.5,82.1 355.0,39.5 355.5,83.5" stroke="#0000ff" stroke-width="1.6"/>
</g>
<rect x="323.3" y="7.6" width="214.50" height="161.50" fill="none" stroke="#000" stroke-width="1.45"/>
<line x1="323.3" y1="48.00" x2="325.90000000000003" y2="48.00" stroke="#000" stroke-width="1.2"/>
<line x1="537.8" y1="48.00" x2="535.1999999999999" y2="48.00" stroke="#000" stroke-width="1.2"/>
<line x1="323.3" y1="88.35" x2="325.90000000000003" y2="88.35" stroke="#000" stroke-width="1.2"/>
<line x1="537.8" y1="88.35" x2="535.1999999999999" y2="88.35" stroke="#000" stroke-width="1.2"/>
<line x1="323.3" y1="128.70" x2="325.90000000000003" y2="128.70" stroke="#000" stroke-width="1.2"/>
<line x1="537.8" y1="128.70" x2="535.1999999999999" y2="128.70" stroke="#000" stroke-width="1.2"/>
<line x1="394.80" y1="7.6" x2="394.80" y2="10.2" stroke="#000" stroke-width="1.2"/>
<line x1="394.80" y1="169.1" x2="394.80" y2="166.5" stroke="#000" stroke-width="1.2"/>
<line x1="466.30" y1="7.6" x2="466.30" y2="10.2" stroke="#000" stroke-width="1.2"/>
<line x1="466.30" y1="169.1" x2="466.30" y2="166.5" stroke="#000" stroke-width="1.2"/>
<text transform="translate(320.00,15.55) scale(1,1.07)" font-size="13.5" text-anchor="end">4</text>
<text transform="translate(320.00,55.95) scale(1,1.07)" font-size="13.5" text-anchor="end">2</text>
<text transform="translate(320.00,96.30) scale(1,1.07)" font-size="13.5" text-anchor="end">0</text>
<text transform="translate(320.00,136.65) scale(1,1.07)" font-size="13.5" text-anchor="end">-2</text>
<text transform="translate(320.00,177.05) scale(1,1.07)" font-size="13.5" text-anchor="end">-4</text>
<text transform="translate(328.35,190.30) scale(1,1.07)" font-size="13.5" text-anchor="middle">1.97</text>
<text transform="translate(399.60,190.30) scale(1,1.07)" font-size="13.5" text-anchor="middle">1.98</text>
<text transform="translate(469.90,190.30) scale(1,1.07)" font-size="13.5" text-anchor="middle">1.99</text>
<text transform="translate(540.65,190.30) scale(1,1.07)" font-size="13.5" text-anchor="middle">2</text>
<text transform="translate(436.90,208.40) scale(1,1.06)" font-size="15.2" text-anchor="middle">t/step</text>
<text transform="translate(506.00,213.00) scale(1,0.95)" font-size="16.5">×</text>
<text transform="translate(520.80,211.70) scale(0.86,1.02)" font-size="13.5">10</text>
<text transform="translate(533.80,204.30) scale(1,1.1)" font-size="9.6">4</text>
<text transform="translate(436.30,233.30) scale(1,0.98)" font-size="15.8" text-anchor="middle">(b)</text>
<text transform="translate(299.4,86.2) rotate(-90) scale(1.068,1.0)" font-size="15.3" text-anchor="middle">True value and filters</text>
<rect x="142.9" y="9.5" width="98.69999999999999" height="45.5" fill="#fff"/>
<line x1="145.9" y1="18.80" x2="193.4" y2="18.80" stroke="#000000" stroke-width="1.9"/>
<text transform="translate(194.60,22.90) scale(1,1.08)" font-size="12.2" style="stroke-width:0.2px">True value</text>
<line x1="145.9" y1="30.00" x2="193.4" y2="30.00" stroke="#ff0000" stroke-width="1.9" stroke-dasharray="2.5 2.3"/>
<text transform="translate(194.60,33.50) scale(1,1.08)" font-size="12.2" style="stroke-width:0.2px">Sensor1</text>
<line x1="145.9" y1="40.30" x2="193.4" y2="40.30" stroke="#0000ff" stroke-width="1.9" stroke-dasharray="12.7 7.4"/>
<text transform="translate(194.60,43.70) scale(1,1.08)" font-size="12.2" style="stroke-width:0.2px">Sensor2</text>
<line x1="145.9" y1="52.00" x2="193.4" y2="52.00" stroke="#00b050" stroke-width="1.9" stroke-dasharray="26.5 13.8"/>
<text transform="translate(194.60,55.00) scale(1,1.08)" font-size="12.2" style="stroke-width:0.2px">Sensor3</text><rect x="425.4" y="9.5" width="98.70000000000005" height="45.5" fill="#fff"/>
<line x1="428.4" y1="18.80" x2="475.9" y2="18.80" stroke="#000000" stroke-width="1.9"/>
<text transform="translate(477.10,22.90) scale(1,1.08)" font-size="12.2" style="stroke-width:0.2px">True value</text>
<line x1="428.4" y1="30.00" x2="475.9" y2="30.00" stroke="#ff0000" stroke-width="1.9" stroke-dasharray="2.5 2.3"/>
<text transform="translate(477.10,33.50) scale(1,1.08)" font-size="12.2" style="stroke-width:0.2px">Sensor1</text>
<line x1="428.4" y1="40.30" x2="475.9" y2="40.30" stroke="#0000ff" stroke-width="1.9" stroke-dasharray="12.7 7.4"/>
<text transform="translate(477.10,43.70) scale(1,1.08)" font-size="12.2" style="stroke-width:0.2px">Sensor2</text>
<line x1="428.4" y1="52.00" x2="475.9" y2="52.00" stroke="#00b050" stroke-width="1.9" stroke-dasharray="26.5 13.8"/>
<text transform="translate(477.10,55.00) scale(1,1.08)" font-size="12.2" style="stroke-width:0.2px">Sensor3</text><line x1="48.3" y1="146.90" x2="95.3" y2="146.90" stroke="#7030a0" stroke-width="1.9" stroke-dasharray="13.2 7.5 1 7.5"/>
<text transform="translate(96.80,149.90) scale(1,1.12)" font-size="12.0" style="stroke-width:0.2px">Sensor4</text>
<line x1="48.3" y1="155.75" x2="95.3" y2="155.75" stroke="#ff00ff" stroke-width="1.9" stroke-dasharray="12.8 7.2 1 7.6 1 7"/>
<text transform="translate(96.80,159.60) scale(1,1.12)" font-size="12.0" style="stroke-width:0.2px">Sensor5</text><line x1="326.6" y1="147.80" x2="373.6" y2="147.80" stroke="#7030a0" stroke-width="1.9" stroke-dasharray="13.2 7.5 1 7.5"/>
<text transform="translate(375.00,150.80) scale(1,1.12)" font-size="12.0" style="stroke-width:0.2px">Sensor4</text>
<line x1="326.6" y1="156.65" x2="373.6" y2="156.65" stroke="#ff00ff" stroke-width="1.9" stroke-dasharray="12.8 7.2 1 7.6 1 7"/>
<text transform="translate(375.00,160.50) scale(1,1.12)" font-size="12.0" style="stroke-width:0.2px">Sensor5</text>
</svg>
</body></html>
